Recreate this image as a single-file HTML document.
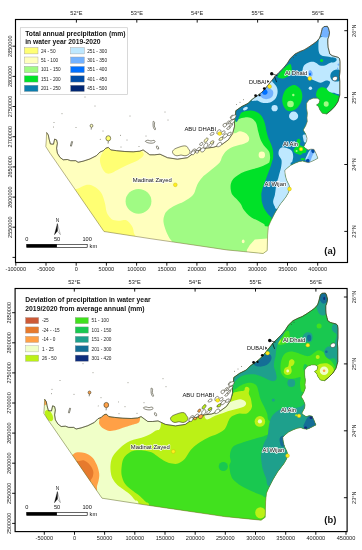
<!DOCTYPE html>
<html lang="en"><head><meta charset="utf-8"><title>UAE precipitation maps</title>
<style>html,body{margin:0;padding:0;background:#fff}body{width:362px;height:550px;overflow:hidden}svg{display:block;font-family:'Liberation Sans', Arial, sans-serif}</style></head><body>
<svg width="362" height="550" viewBox="0 0 362 550">
<defs><clipPath id="uae"><path d="M46.6 132.5 L48.3 135 L49.1 139.1 L50.4 144 L53.5 144.2 L54.6 139.1 L56.6 139.9 L57.4 143.2 L56.6 148.2 L57.4 153.2 L59.9 157.3 L63.2 159.8 L67.4 159.5 L70.7 160.7 L75.7 160.7 L78.1 162.3 L83.1 161.2 L89.8 159 L96.4 155.7 L100 152 L103.3 150.7 L105.8 148.2 L108.3 147.4 L110.8 149.9 L116.6 150.7 L124.9 151.5 L133.2 151.8 L139.8 151.2 L143.1 149.9 L146.4 152.3 L149.8 154.8 L154.7 154.8 L160 154.2 L167.5 157.7 L177.4 159.2 L187.4 157.7 L194.8 152.2 L203.5 148.5 L213.5 147.3 L222.2 144.3 L228.4 139.8 L232.6 133.6 L234.6 126.1 L234.1 118.7 L235.5 114.5 L235.8 110.7 L241.6 106.6 L248.2 103.3 L252.4 99.1 L257.3 95.8 L261.5 92.5 L264.9 89 L268.2 84.9 L271.6 80.7 L274.9 76.6 L279 72.4 L283.2 68.3 L287.3 63.3 L290.3 58.5 L295 54 L300 51.5 L304.1 49.9 L308.2 47.4 L313.2 44 L316.5 41.6 L319.5 38.2 L320.7 34.9 L321.5 31.6 L322.3 28.3 L324 26.6 L327.3 26.3 L328.5 28.3 L329.5 32.4 L329 35.8 L327.8 39.1 L327.8 43.2 L328.1 47.4 L329 50.7 L329.8 54 L332.3 55.7 L338.1 57.3 L339.5 58.5 L340 61.6 L340 71.6 L339.4 76.5 L339.8 81.5 L339.8 95 L338 101.6 L334.8 106.5 L330.6 110.7 L326.5 114 L322.3 113.2 L319.9 109.9 L318.5 106.5 L316.5 104.9 L319 103.2 L319.9 99.9 L317.4 98.2 L313.2 98.2 L309 99.9 L306.6 103.2 L306.6 108.2 L307.4 113.2 L307 118 L307.3 121.5 L305.7 125.7 L303.2 130 L305.7 134.1 L307.1 138.3 L306.5 141.6 L304.9 144.4 L303.8 146.6 L305.4 148.3 L308.2 149.9 L311 149.1 L314 149.4 L315.9 153.2 L317.9 158.2 L314.8 159.9 L311.5 161.5 L308.8 162.6 L306 162.1 L302.7 161 L299.4 161.5 L294.9 163.2 L290.5 165.4 L287.2 168.1 L284.8 170.5 L285.2 174.9 L286.5 179.9 L289 184.9 L289.8 189 L288.1 193.2 L285.7 197.3 L279.7 205 L274.8 213.2 L270.6 221.5 L268.4 226.5 L267.6 235 L267.2 250.6 L263.1 253.5 L243.2 251.5 L226.6 249.9 L210 247.4 L150 238.6 L104 231.5 L78.9 195 L54.8 160 L50 153.2 L45.8 146.6 L46.3 140Z"/></clipPath></defs>
<rect width="362" height="550" fill="#fff"/>
<g id="panel-a">
<g clip-path="url(#uae)">
<rect x="30" y="20" width="320" height="240" fill="#ffffbe"/>
<path d="M233 131 C234.2 136.2 237.9 130.9 240 131.3 C242.1 131.7 244.2 132.3 245.7 133.3 C247.2 134.3 248.6 136 249 137.4 C249.4 138.8 249.2 140.5 248.2 141.6 C247.2 142.7 245.1 143.3 243.2 144 C241.3 144.7 238.8 145 236.6 145.7 C234.4 146.4 231.9 147.1 230 148.2 C228.1 149.2 226.5 150.5 225.2 152 C223.9 153.5 222.9 155.3 222 157 C221.1 158.7 221.5 160.2 219.7 162.4 C217.9 164.6 213.7 167.6 211 169.9 C208.3 172.2 205.6 174 203.5 176.1 C201.4 178.2 199.8 180.3 198.6 182.3 C197.3 184.3 196.9 185.9 196 188 C195.1 190.1 195 192.8 193 195 C191 197.2 187 199.8 184 201.5 C181 203.2 177.7 204.1 175 205.5 C172.3 206.9 169.8 208.4 168 210 C166.2 211.6 165.2 213 164.5 215 C163.8 217 163.2 219.3 163.5 222 C163.8 224.7 165 228.2 166 231 C167 233.8 168.7 236.5 169.7 238.5 C170.7 240.5 171.6 239.1 172 243 C172.4 246.9 142 258.8 172 262 C202 265.2 322 289 352 262 C382 235 371.8 127 352 100 C332.2 73 252.8 94.8 233 100 C213.2 105.2 231.8 125.8 233 131Z" fill="#a0fb84"/>
<path d="M100 158.7 C100.3 156.3 101.7 154.1 103 152 C104.3 149.9 106 146.5 108 146 C110 145.5 111.8 148.3 115 149 C118.2 149.7 123.2 149.8 127.3 150 C131.4 150.2 137.1 149.7 139.8 150.5 C142.6 151.3 144 153 143.8 154.6 C143.6 156.2 141.2 158.3 138.5 160 C135.8 161.7 130.8 163.3 127.3 165 C123.8 166.7 120.3 168.6 117.4 170 C114.5 171.4 112.1 173.2 110 173.6 C107.9 174 106.5 173.6 105 172.3 C103.5 171.1 102 168.4 101.2 166.1 C100.4 163.8 99.7 161 100 158.7Z" fill="#ffff73"/>
<path d="M70 190 C71.2 188.1 74.6 189.5 77.3 188.7 C80 187.8 83.3 185.3 86 184.9 C88.7 184.5 91 184.9 93.5 186.2 C96 187.4 99.1 189.7 101 192.4 C102.9 195.1 103.8 199 104.7 202.3 C105.7 205.6 105.8 209.8 106.7 212.3 C107.6 214.8 108.9 216.2 110 217.5 C111.1 218.8 111.5 219.4 113.1 219.9 C114.7 220.4 117.6 220.6 119.8 220.7 C122 220.8 124.4 219.4 126.4 220.3 C128.4 221.2 130.7 224.1 131.9 226.1 C133.1 228.1 133.5 230 133.7 232.3 C133.9 234.6 138.6 238.7 133 240 C127.4 241.3 110.5 246.7 100 240 C89.5 233.3 75 208.3 70 200 C65 191.7 68.8 191.9 70 190Z" fill="#ffff73"/>
<ellipse cx="138.5" cy="201.3" rx="12.9" ry="12.4" fill="#a0fb84"/>
<path d="M246.8 249.9 L249.8 244.9 L254.8 239.6 L270 238.3 L270 256 L247.3 253Z" fill="#ffffbe"/>
<ellipse cx="243.2" cy="241.4" rx="1.4" ry="1.8" fill="#ffffbe"/>
<path d="M233 124 C233.5 127.5 235 121.8 236 121 C237 120.2 237.6 119.6 239.1 119 C240.6 118.4 242.8 117.5 244.9 117.4 C247 117.3 249.7 117.4 251.5 118.2 C253.3 119 254.7 120.8 255.7 122.3 C256.7 123.8 256.9 125.8 257.3 127.3 C257.7 128.8 257.6 129.5 258.2 131.6 C258.8 133.7 259.6 137.4 260.7 139.9 C261.8 142.4 263.4 144.7 264.8 146.6 C266.2 148.5 268.1 149.8 269 151.5 C269.9 153.2 270 155.3 270.1 157 C270.2 158.7 269.8 160.4 269.5 161.5 C269.2 162.6 269.5 162.5 268.1 163.3 C266.8 164.2 263.9 165.6 261.4 166.6 C258.9 167.6 255.8 168.3 253.1 169.1 C250.3 169.9 247.4 170.6 244.9 171.6 C242.4 172.6 240.1 173.7 238.2 174.9 C236.2 176.2 234.4 177.6 233.2 179.1 C232 180.6 231.2 182.2 230.8 184 C230.4 185.8 230.5 188.1 230.8 189.9 C231.1 191.7 231.4 193.3 232.4 194.8 C233.4 196.3 235.2 197.6 236.6 199.1 C238 200.6 239.7 202.4 240.8 204.1 C241.9 205.8 242.2 207.6 243.2 209.1 C244.2 210.6 245.2 211.8 246.6 213.2 C248 214.6 249.6 216.2 251.5 217.4 C253.4 218.7 256.1 219.6 258.2 220.7 C260.3 221.8 262.3 223 264 224 C265.7 225 262.4 225.8 268.4 226.5 C274.4 227.2 294.7 249.1 300 228 C305.3 206.9 311.2 121.3 300 100 C288.8 78.7 244.2 96 233 100 C221.8 104 232.5 120.5 233 124Z" fill="#00e128"/>
<ellipse cx="261.8" cy="154.9" rx="3.2" ry="3.4" fill="#ffffbe"/>
<path d="M235 115.3 C235.9 131.5 239.4 113.2 241.6 112.4 C243.8 111.6 246 110.9 248.2 110.7 C250.4 110.5 252.8 110.5 254.9 111.2 C257 111.9 259.2 113.3 260.7 114.9 C262.2 116.5 263.2 118.8 264 120.7 C264.8 122.6 265.2 124.7 265.6 126.5 C266 128.3 266 129.6 266.5 131.6 C267 133.6 267.6 136.1 268.4 138.3 C269.2 140.5 270.6 142.7 271.4 144.9 C272.2 147.1 272.8 149.3 273.1 151.5 C273.4 153.7 273.2 156.6 273.1 158.2 C273 159.8 272.6 159.6 272.2 161 C271.8 162.4 271.3 164.5 270.6 166.6 C269.9 168.7 268.9 171.1 268.1 173.3 C267.3 175.5 266.4 177.7 265.6 179.9 C264.8 182.1 263.8 184.3 263.1 186.5 C262.4 188.7 261.7 191.4 261.4 193.2 C261.1 194.9 261.4 195.6 261.5 197 C261.6 198.4 261.4 199.7 261.8 201.6 C262.2 203.5 263.1 206.4 264 208.3 C264.9 210.2 266.1 211.7 267.3 213.2 C268.5 214.7 270.4 216.5 271.4 217.4 C272.4 218.3 268.7 218.4 273.5 218.8 C278.3 219.2 286.9 219.8 300 220 C313.1 220.2 343.3 254.2 352 220 C360.7 185.8 371.3 49.2 352 15 C332.7 -19.2 255.5 -1.7 236 15 C216.5 31.7 234.1 99.1 235 115.3Z" fill="#0a7dae"/>
<path d="M279.1 150 C279.6 148.7 280.4 147.8 281.6 147.4 C282.9 147.1 284.9 147.4 286.6 147.9 C288.3 148.4 290.5 149.3 291.6 150.7 C292.7 152 293.1 154.2 293.2 156 C293.3 157.8 292.7 159.8 292.3 161.5 C291.9 163.2 289.7 161.2 291 166 C292.3 170.8 299.8 182.3 300 190 C300.2 197.7 295.8 208.8 292 212 C288.2 215.2 280.1 210 277.2 209.1 C274.3 208.2 275.5 207.8 274.8 206.6 C274.1 205.3 273.1 203.6 273.1 201.6 C273.1 199.6 274.5 196.9 274.9 194.8 C275.3 192.7 275.4 190.9 275.7 189 C276 187.1 276.1 185 276.5 183.2 C276.9 181.4 277.7 179.8 278.2 178.2 C278.7 176.5 279 175.2 279.5 173.3 C280 171.4 280.9 168.8 281.2 166.6 C281.5 164.4 281.9 161.9 281.5 160 C281.1 158.1 279.1 156.7 278.7 155 C278.3 153.3 278.6 151.3 279.1 150Z" fill="#bee8ff"/>
<path d="M320.8 37.2 C318.1 38.1 319.1 39.7 318.7 41.2 C318.3 42.7 318.4 44.5 318.4 46.1 C318.4 47.8 318.4 49.8 318.7 51.1 C318.9 52.5 319.2 53.4 319.9 54.2 C320.6 55 321.8 55.7 323 56.1 C324.2 56.5 325.7 56.4 327 56.6 C328.3 56.8 329.6 57 331 57.2 C332.4 57.4 334.7 57.5 335.6 58 C336.5 58.5 336.8 59.5 336.6 60.2 C336.4 60.9 335.3 61.8 334.2 62.3 C333.1 62.8 331.4 62.4 329.9 62.9 C328.3 63.4 326.6 65 324.9 65.4 C323.2 65.8 321.3 65.8 319.9 65.4 C318.4 65 317.4 63.5 316.2 62.9 C314.9 62.3 313.8 61.7 312.4 61.7 C310.9 61.7 308.9 62.2 307.5 62.9 C306.1 63.6 304.5 64.5 303.7 66 C302.9 67.5 302.3 70 302.8 71.8 C303.3 73.6 305 75.3 306.8 76.7 C308.6 78.1 311.5 79.3 313.8 80.3 C316.1 81.3 318.6 82.7 320.7 82.7 C322.8 82.8 324.8 80.7 326.3 80.6 C327.9 80.5 329.6 81.1 330 82 C330.4 82.9 329.1 84.8 328.5 86 C327.9 87.2 326.2 88.5 326.3 89.5 C326.4 90.5 327.7 91.7 329 92.2 C330.3 92.8 332.5 92.5 334 92.8 C335.5 93.1 336.2 94.1 338 94 C339.8 93.9 343.8 99.3 345 92 C346.2 84.7 346.7 59.3 345 50 C343.3 40.7 339 38.1 335 36 C331 33.9 323.5 36.3 320.8 37.2Z" fill="#bee8ff"/>
<path d="M331 73 C331.6 71.9 332.8 70.8 334 70.2 C335.2 69.6 336.8 69.3 338 69.6 C339.2 69.9 340.5 70.3 341 72 C341.5 73.7 341.7 78.4 341 80 C340.3 81.6 338.4 81.4 337 81.5 C335.6 81.6 333.6 81.2 332.5 80.5 C331.4 79.8 330.6 78.2 330.4 77 C330.1 75.8 330.4 74.1 331 73Z" fill="#0a7dae"/>
<path d="M318 28 C319.7 26.2 327.8 23.2 330 24 C332.2 24.8 331.1 31 331 33 C330.9 35 330.3 35.2 329.4 36 C328.5 36.8 326.9 37.5 325.7 37.6 C324.5 37.7 323.2 37.3 322.3 36.8 C321.4 36.3 320.7 36 320 34.5 C319.3 33 316.3 29.8 318 28Z" fill="#73b2ff"/>
<ellipse cx="338.4" cy="64.6" rx="0.8" ry="1.2" fill="#73b2ff"/>
<ellipse cx="337.6" cy="68.4" rx="0.6" ry="0.8" fill="#73b2ff"/>
<path d="M268 78 C271.5 75.2 271.6 81 273 82.5 C274.4 84 275.9 85.3 276.7 86.9 C277.5 88.5 277.7 90.2 277.6 91.9 C277.5 93.7 277 95.9 276.1 97.4 C275.2 99 273.8 100.3 272.4 101.2 C270.9 102.1 269.3 102.8 267.4 103 C265.5 103.2 262.9 102.8 261.2 102.4 C259.5 102 258.9 101.2 257.4 100.6 C255.9 100 250.2 102.8 252 99 C253.8 95.2 264.5 80.8 268 78Z" fill="#bee8ff"/>
<path d="M264 84 C266.4 83 269 87.5 270.5 88.7 C272 89.9 272.6 90.2 273 91.2 C273.4 92.2 273.4 93.8 273 95 C272.6 96.2 271.6 97.4 270.5 98.1 C269.4 98.8 267.5 99.3 266.1 99.3 C264.8 99.3 263.3 98.6 262.4 98.1 C261.5 97.6 261.7 96.9 260.6 96.4 C259.5 95.9 255.4 97.1 256 95 C256.6 92.9 261.6 85 264 84Z" fill="#73b2ff"/>
<path d="M262 88 C263 87.8 265.1 88.9 266 89.6 C266.9 90.3 267.5 91.2 267.6 92 C267.7 92.8 267.2 93.8 266.6 94.3 C266 94.8 264.9 94.9 264.2 94.8 C263.5 94.7 263.3 94 262.6 93.4 C261.9 92.8 260.1 91.9 260 91 C259.9 90.1 261 88.2 262 88Z" fill="#0070ff"/>
<ellipse cx="245.4" cy="108.6" rx="2.6" ry="1.5" fill="#bee8ff" transform="rotate(-25 245.4 108.6)"/>
<ellipse cx="274.6" cy="108.2" rx="3.1" ry="3.1" fill="#bee8ff"/>
<ellipse cx="293.6" cy="116" rx="4.6" ry="4.4" fill="#bee8ff"/>
<ellipse cx="310.4" cy="88.2" rx="1.7" ry="1.7" fill="#bee8ff"/>
<path d="M308.8 71 C309.1 70.2 309.9 70 310.5 70.2 C311.1 70.5 312.1 71.6 312.4 72.5 C312.7 73.4 312.7 74.8 312.4 75.5 C312.1 76.2 311.1 76.7 310.5 76.6 C309.9 76.5 309.1 75.9 308.8 75 C308.5 74.1 308.5 71.8 308.8 71Z" fill="#73b2ff"/>
<ellipse cx="310" cy="74.2" rx="0.9" ry="1.4" fill="#0070ff"/>
<path d="M277.5 77 C277.1 76.3 278.1 75.4 279 74.1 C279.9 72.8 281.7 70.6 283.2 69.1 C284.7 67.6 286.6 65.8 287.8 65 C289 64.2 289.9 63.8 290.5 64.3 C291.1 64.8 291.4 66.4 291.6 67.8 C291.8 69.2 291.9 71.2 291.5 72.5 C291.1 73.8 290.1 74.9 289 75.8 C287.9 76.7 286.2 77.5 285 77.9 C283.8 78.3 282.8 78.6 281.5 78.4 C280.2 78.2 277.9 77.7 277.5 77Z" fill="#00e128"/>
<path d="M282.2 99.9 C282.3 97.2 283.4 93.4 284.7 91.1 C286 88.8 288.3 87.2 290.2 86.2 C292.1 85.2 294.1 84.8 295.9 85.4 C297.7 86 299.8 87.9 300.9 89.9 C302 91.9 302.5 94.9 302.3 97.4 C302.1 99.9 300.9 102.7 299.6 104.8 C298.3 106.9 296.6 108.8 294.7 109.8 C292.8 110.8 290.1 111.4 288.4 111 C286.6 110.6 285.2 109.1 284.2 107.3 C283.2 105.5 282.1 102.6 282.2 99.9Z" fill="#00e128"/>
<ellipse cx="290.5" cy="104" rx="3.3" ry="3.3" fill="#a0fb84"/>
<ellipse cx="293.3" cy="95" rx="1.2" ry="1.2" fill="#a0fb84"/>
<path d="M317.2 90.5 C317.9 89.1 319.3 87.9 320.7 87.5 C322.1 87.1 324.3 87.6 325.7 88.3 C327.1 89 327.6 90.6 329 91.6 C330.4 92.6 332.5 93.4 334 94.1 C335.5 94.8 336.3 95.1 338.1 95.8 C339.9 96.5 345 95.6 345 98 C345 100.4 341 106.8 338 110 C335 113.2 329.8 116.2 327 117 C324.2 117.8 322.5 116.5 321 115 C319.5 113.5 319.2 109.8 318 108 C316.8 106.2 313.8 105.8 314 104.5 C314.2 103.2 319.1 101.9 319.5 100.5 C319.9 99.1 316.6 97.7 316.2 96 C315.8 94.3 316.4 91.9 317.2 90.5Z" fill="#00e128"/>
<ellipse cx="326.2" cy="104" rx="2.5" ry="2.7" fill="#a0fb84"/>
<ellipse cx="321.6" cy="60.4" rx="1.5" ry="1.5" fill="#00e128"/>
<path d="M293.8 149.4 C294.1 148.7 294.9 147.8 295.5 147.2 C296.1 146.5 297 146.2 297.2 145.5 C297.4 144.8 296.6 143.7 296.6 142.7 C296.6 141.7 296.7 140 297.2 139.4 C297.7 138.8 298.8 138.6 299.4 138.9 C299.9 139.2 300.4 140.2 300.5 141.1 C300.6 142 299.7 143.6 299.9 144.4 C300.1 145.2 300.9 145.6 301.6 146 C302.3 146.4 303.6 146.2 304.3 146.6 C305 147 305.4 147.7 305.8 148.3 C306.2 149 306.6 149.8 306.5 150.5 C306.4 151.2 306 152.2 305.4 152.7 C304.8 153.1 303.5 152.8 302.7 153.2 C301.9 153.6 301.2 154.7 300.5 154.9 C299.8 155.1 299.1 154.6 298.3 154.3 C297.5 154 296.2 153.6 295.5 153.2 C294.8 152.8 294.1 152.2 293.8 151.6 C293.5 151 293.5 150.1 293.8 149.4Z" fill="#00e128"/>
<ellipse cx="296.6" cy="151" rx="1" ry="1" fill="#a0fb84"/>
<ellipse cx="302.7" cy="159.2" rx="2.3" ry="1.1" fill="#00e128"/>
<path d="M303 135 C303.7 134.3 306.7 134.3 307.5 135 C308.3 135.7 307.9 137.8 307.8 139 C307.7 140.2 307.2 141.4 306.6 142 C306 142.6 304.9 142.8 304.4 142.3 C303.8 141.8 303.5 140.2 303.3 139 C303.1 137.8 302.3 135.7 303 135Z" fill="#bee8ff"/>
<path d="M305.4 158.8 L308.2 152.7 L311 148.5 L314.5 148.5 L319 159 L309 164 L306 162.5Z" fill="#bee8ff"/>
<path d="M310.6 149.5 C311.2 149 312.9 148.7 313.6 149 C314.3 149.3 314.7 150.6 314.6 151.5 C314.5 152.4 313.5 153.4 313 154.5 C312.5 155.6 312 156.7 311.5 158 C311 159.3 310.7 161.8 309.8 162.6 C308.9 163.3 307 162.9 306.4 162.5 C305.8 162.1 305.9 161.1 306.3 160 C306.7 158.9 307.9 157.3 308.5 156 C309.1 154.7 309.6 153.1 310 152 C310.4 150.9 310 150 310.6 149.5Z" fill="#73b2ff"/>
<path d="M311.6 149.2 C312.1 148.8 313.7 148.7 314.2 149.2 C314.7 149.7 314.8 151.3 314.6 152 C314.4 152.7 313.3 153.3 312.8 153.2 C312.3 153.1 311.6 152.2 311.4 151.5 C311.2 150.8 311.1 149.6 311.6 149.2Z" fill="#004da8"/>
<path d="M306 159.8 C306.4 159.2 307.9 158.8 308.5 159 C309.1 159.2 309.6 160.4 309.6 161 C309.6 161.6 309.1 162.6 308.5 162.8 C307.9 163 306.4 162.9 306 162.4 C305.6 161.9 305.6 160.4 306 159.8Z" fill="#004da8"/>
</g>
<path d="M46.6 132.5 L48.3 135 L49.1 139.1 L50.4 144 L53.5 144.2 L54.6 139.1 L56.6 139.9 L57.4 143.2 L56.6 148.2 L57.4 153.2 L59.9 157.3 L63.2 159.8 L67.4 159.5 L70.7 160.7 L75.7 160.7 L78.1 162.3 L83.1 161.2 L89.8 159 L96.4 155.7 L100 152 L103.3 150.7 L105.8 148.2 L108.3 147.4 L110.8 149.9 L116.6 150.7 L124.9 151.5 L133.2 151.8 L139.8 151.2 L143.1 149.9 L146.4 152.3 L149.8 154.8 L154.7 154.8 L160 154.2 L167.5 157.7 L177.4 159.2 L187.4 157.7 L194.8 152.2 L203.5 148.5 L213.5 147.3 L222.2 144.3 L228.4 139.8 L232.6 133.6 L234.6 126.1 L234.1 118.7 L235.5 114.5 L235.8 110.7 L241.6 106.6 L248.2 103.3 L252.4 99.1 L257.3 95.8 L261.5 92.5 L264.9 89 L268.2 84.9 L271.6 80.7 L274.9 76.6 L279 72.4 L283.2 68.3 L287.3 63.3 L290.3 58.5 L295 54 L300 51.5 L304.1 49.9 L308.2 47.4 L313.2 44 L316.5 41.6 L319.5 38.2 L320.7 34.9 L321.5 31.6 L322.3 28.3 L324 26.6 L327.3 26.3 L328.5 28.3 L329.5 32.4 L329 35.8 L327.8 39.1 L327.8 43.2 L328.1 47.4 L329 50.7 L329.8 54 L332.3 55.7 L338.1 57.3 L339.5 58.5 L340 61.6 L340 71.6 L339.4 76.5 L339.8 81.5 L339.8 95 L338 101.6 L334.8 106.5 L330.6 110.7 L326.5 114 L322.3 113.2 L319.9 109.9 L318.5 106.5 L316.5 104.9 L319 103.2 L319.9 99.9 L317.4 98.2 L313.2 98.2 L309 99.9 L306.6 103.2 L306.6 108.2 L307.4 113.2 L307 118 L307.3 121.5 L305.7 125.7 L303.2 130 L305.7 134.1 L307.1 138.3 L306.5 141.6 L304.9 144.4 L303.8 146.6 L305.4 148.3 L308.2 149.9 L311 149.1 L314 149.4 L315.9 153.2 L317.9 158.2 L314.8 159.9 L311.5 161.5 L308.8 162.6 L306 162.1 L302.7 161 L299.4 161.5 L294.9 163.2 L290.5 165.4 L287.2 168.1 L284.8 170.5 L285.2 174.9 L286.5 179.9 L289 184.9 L289.8 189 L288.1 193.2 L285.7 197.3 L279.7 205 L274.8 213.2 L270.6 221.5 L268.4 226.5 L267.6 235 L267.2 250.6 L263.1 253.5 L243.2 251.5 L226.6 249.9 L210 247.4 L150 238.6 L104 231.5 L78.9 195 L54.8 160 L50 153.2 L45.8 146.6 L46.3 140Z" fill="none" stroke="#7a7440" stroke-width="0.55" stroke-linejoin="round"/>
<path d="M46.6 132.5 L48.3 135 L49.1 139.1 L50.4 144 L53.5 144.2 L54.6 139.1 L56.6 139.9 L57.4 143.2 L56.6 148.2 L57.4 153.2 L59.9 157.3 L63.2 159.8 L67.4 159.5 L70.7 160.7 L75.7 160.7 L78.1 162.3 L83.1 161.2 L89.8 159 L96.4 155.7 L100 152 L103.3 150.7 L105.8 148.2 L108.3 147.4 L110.8 149.9 L116.6 150.7 L124.9 151.5 L133.2 151.8 L139.8 151.2 L143.1 149.9 L146.4 152.3 L149.8 154.8 L154.7 154.8 L160 154.2 L167.5 157.7 L177.4 159.2 L187.4 157.7 L194.8 152.2 L203.5 148.5 L213.5 147.3 L222.2 144.3 L228.4 139.8 L232.6 133.6 L234.6 126.1 L234.1 118.7 L235.5 114.5 L235.8 110.7 L241.6 106.6 L248.2 103.3 L252.4 99.1 L257.3 95.8 L261.5 92.5 L264.9 89 L268.2 84.9 L271.6 80.7 L274.9 76.6 L279 72.4 L283.2 68.3 L287.3 63.3 L290.3 58.5 L295 54 L300 51.5 L304.1 49.9 L308.2 47.4 L313.2 44 L316.5 41.6 L319.5 38.2 L320.7 34.9 L321.5 31.6 L322.3 28.3 L324 26.6 L327.3 26.3 L328.5 28.3 L329.5 32.4 L329 35.8 L327.8 39.1 L327.8 43.2 L328.1 47.4 L329 50.7 L329.8 54 L332.3 55.7 L338.1 57.3 L339.5 58.5 L340 61.6 L340 71.6 L339.4 76.5 L339.8 81.5 L339.8 95 L338 101.6 L334.8 106.5 L330.6 110.7 L326.5 114" fill="none" stroke="#2e2e22" stroke-width="0.55" stroke-linejoin="round"/>
<path d="M332.4 78.6 C332.5 77.9 333.3 77 334 76.7 C334.7 76.4 336 76.3 336.6 76.6 C337.2 76.9 337.5 77.9 337.4 78.6 C337.3 79.3 336.7 80.3 336 80.6 C335.3 80.9 334 80.9 333.4 80.6 C332.8 80.3 332.3 79.2 332.4 78.6Z" fill="#fff" stroke="#222" stroke-width="0.5"/>
<path d="M108.3 140.8 L108.1 143.6" fill="none" stroke="#3c3a26" stroke-width="0.6"/>
<ellipse cx="108.3" cy="138.3" rx="2.4" ry="2.6" fill="#ffff73" stroke="#3c3a26" stroke-width="0.6"/>
<path d="M91.4 127.3 L91.2 129.6" fill="none" stroke="#3c3a26" stroke-width="0.6"/>
<ellipse cx="91.5" cy="125.8" rx="1.4" ry="1.5" fill="#ffffbe" stroke="#3c3a26" stroke-width="0.6"/>
<path d="M71.6 141.5 L72.6 141.7 L71.4 146.2 L70.4 146 Z" fill="#fff" stroke="#3c3a26" stroke-width="0.6"/>
<path d="M172.5 151.5 C172.7 150.6 173.9 149.5 175 148.8 C176.1 148.1 177.7 147.7 179 147.2 C180.3 146.7 181.8 146.2 183 146 C184.2 145.8 185.6 145.8 186.5 146.2 C187.4 146.6 187.6 147.6 188.2 148.5 C188.8 149.4 189.9 150.5 190 151.5 C190.1 152.5 189.3 153.8 188.5 154.5 C187.7 155.2 186.2 155.7 185 155.8 C183.8 155.9 182.3 155 181 155 C179.7 155 178.2 155.9 177 155.8 C175.8 155.7 174.6 155.2 173.8 154.5 C173.1 153.8 172.3 152.4 172.5 151.5Z" fill="#ffffbe" stroke="#3c3a26" stroke-width="0.6"/>
<path d="M145.3 141.2 C145.3 140.8 147.1 140.2 148 140.2 C148.9 140.2 150 141 151 141 C152 141 153.3 140.1 154 140.3 C154.7 140.5 155.3 141.5 155 142 C154.7 142.5 153.2 143.1 152 143.2 C150.8 143.3 149.1 143.1 148 142.8 C146.9 142.5 145.3 141.6 145.3 141.2Z" fill="#fff" stroke="#3c3a26" stroke-width="0.6"/>
<path d="M156.6 146 C156.8 145.7 158 146.3 158.3 146.8 C158.6 147.3 158.8 148.7 158.6 149 C158.3 149.3 157.1 148.9 156.8 148.4 C156.5 147.9 156.3 146.3 156.6 146Z" fill="#fff" stroke="#3c3a26" stroke-width="0.6"/>
<path d="M153.2 121.5 C153.4 120.8 154.4 121.8 154.6 122.5 C154.8 123.2 154.1 124.9 154.3 126 C154.5 127.1 155.6 128.4 155.6 129 C155.6 129.6 155 130 154.6 129.6 C154.2 129.2 153.4 127.8 153.2 126.5 C153 125.2 153 122.2 153.2 121.5Z" fill="#fff" stroke="#3c3a26" stroke-width="0.6"/>
<path d="M191.5 151.7 C191.5 151.4 191.7 151 192.1 150.6 C192.4 150.2 193.4 149.4 193.8 149.2 C194.2 148.9 194.5 149 194.8 149 C195.1 149 195.8 148.9 195.7 149.3 C195.6 149.6 194.7 150.8 194.2 151.3 C193.6 151.8 192.2 152.5 191.8 152.6 C191.4 152.6 191.4 152 191.5 151.7Z" fill="#fff" stroke="#3c3a26" stroke-width="0.6"/>
<path d="M197.6 152.9 C197.2 153.1 196.8 153.4 196.5 153.2 C196.2 153.1 195.6 152.2 195.5 151.8 C195.4 151.4 195.5 150.9 195.8 150.7 C196 150.4 197 150.2 197.3 150.2 C197.7 150.2 197.8 150.6 198 150.9 C198.3 151.2 198.8 151.7 198.8 152 C198.7 152.3 197.9 152.7 197.6 152.9Z" fill="#fff" stroke="#3c3a26" stroke-width="0.6"/>
<path d="M198.2 147.9 C198.7 147.6 199.4 147.3 199.7 147.3 C200.1 147.3 200.7 147.6 200.7 148 C200.7 148.5 200 149.8 199.6 150.1 C199.2 150.5 198.5 150.5 198 150.6 C197.5 150.7 196.4 151 196.2 150.8 C196.1 150.6 196.5 149.9 196.8 149.4 C197.1 149 197.8 148.2 198.2 147.9Z" fill="#fff" stroke="#3c3a26" stroke-width="0.6"/>
<path d="M203.3 151.7 C202.8 152 201.9 152 201.4 151.8 C201 151.6 200.3 151 200.3 150.4 C200.3 149.9 201.2 148.8 201.6 148.4 C202 148 202.6 147.8 203.1 147.8 C203.6 147.8 204.9 147.9 205.2 148.1 C205.5 148.4 205.2 149.2 204.9 149.7 C204.7 150.2 203.9 151.4 203.3 151.7Z" fill="#fff" stroke="#3c3a26" stroke-width="0.6"/>
<path d="M202.4 144.4 C202.2 144.8 201.8 145.3 201.5 145.5 C201.3 145.6 200.9 145.6 200.6 145.5 C200.3 145.4 199.8 145.3 199.7 145 C199.6 144.7 200 143.7 200.3 143.3 C200.5 142.9 201.2 142.4 201.6 142.4 C202.1 142.3 202.8 142.6 202.9 143 C203 143.3 202.6 144.1 202.4 144.4Z" fill="#fff" stroke="#3c3a26" stroke-width="0.6"/>
<path d="M207.5 145.7 C207.3 146.3 206.9 147.1 206.4 147.5 C205.9 147.9 204.4 148.4 204 148.3 C203.6 148.1 203.8 147 203.8 146.5 C203.8 146 203.6 145.4 204 144.8 C204.4 144.3 205.8 143.1 206.4 143 C206.9 142.8 207.7 143.4 207.9 143.8 C208 144.2 207.7 145.1 207.5 145.7Z" fill="#fff" stroke="#3c3a26" stroke-width="0.6"/>
<path d="M206.8 137.9 C207.3 137.7 207.8 138.2 207.9 138.5 C208.1 138.8 208.1 139.4 207.8 139.9 C207.6 140.4 206.7 141.5 206.3 141.9 C205.8 142.2 205 142.5 204.6 142.4 C204.3 142.3 204.1 141.7 204.1 141.3 C204.1 140.9 204.4 140.3 204.8 139.7 C205.2 139.2 206.3 138.1 206.8 137.9Z" fill="#ffffbe" stroke="#3c3a26" stroke-width="0.6"/>
<path d="M213 144.2 C212.7 144.8 212 145.3 211.5 145.8 C210.9 146.3 209.8 147.4 209.4 147.4 C209 147.4 208.7 146.3 208.8 145.8 C208.9 145.3 209.6 144.5 210 144 C210.5 143.5 211.1 142.9 211.7 142.6 C212.2 142.3 213.4 141.8 213.7 142 C213.9 142.3 213.3 143.6 213 144.2Z" fill="#fff" stroke="#3c3a26" stroke-width="0.6"/>
<path d="M210.5 143.4 C210.3 143.1 209.8 142.8 210.1 142.4 C210.4 142 211.7 141.2 212.2 140.9 C212.7 140.7 213.1 140.7 213.3 140.8 C213.6 140.8 214.1 141.1 213.9 141.5 C213.8 141.8 212.9 142.8 212.5 143.2 C212.1 143.7 211.6 144.1 211.3 144.2 C211 144.2 210.6 143.7 210.5 143.4Z" fill="#ffffbe" stroke="#3c3a26" stroke-width="0.6"/>
<path d="M218.5 143 C219.1 142.5 220.3 142.3 220.7 142.3 C221.2 142.3 221.3 142.7 221.5 143.1 C221.6 143.4 222 144.2 221.7 144.7 C221.5 145.2 220.3 145.9 219.7 146.2 C219 146.6 217.9 147 217.5 146.9 C217.1 146.7 216.7 146 216.9 145.4 C217 144.8 218 143.4 218.5 143Z" fill="#fff" stroke="#3c3a26" stroke-width="0.6"/>
<path d="M210.2 134.2 C210.4 133.8 211 133 211.5 132.7 C212 132.4 213 132.2 213.4 132.3 C213.8 132.3 214 132.6 214 133 C214.1 133.3 213.9 134.1 213.6 134.4 C213.2 134.7 212.4 135 211.9 135.1 C211.4 135.3 210.7 135.5 210.5 135.4 C210.2 135.2 210 134.5 210.2 134.2Z" fill="#fff" stroke="#3c3a26" stroke-width="0.6"/>
<path d="M222.9 136.8 C223.1 136.9 222.8 137.7 222.7 138.1 C222.7 138.5 222.7 139.3 222.4 139.6 C222.2 139.9 221.5 140.2 220.9 140.2 C220.4 140.3 219.1 140.5 218.9 140.2 C218.7 139.9 219.3 138.7 219.6 138.3 C220 137.9 220.6 137.7 221.1 137.5 C221.6 137.3 222.6 136.7 222.9 136.8Z" fill="#ffffbe" stroke="#3c3a26" stroke-width="0.6"/>
<path d="M217.2 134 C216.8 133.9 216.9 132.7 217 132.2 C217 131.7 217.2 131.1 217.5 130.8 C217.9 130.4 218.9 129.8 219.4 129.7 C219.8 129.6 220.4 130 220.6 130.2 C220.9 130.5 221.2 131.1 221 131.6 C220.9 132 220 133.1 219.5 133.5 C218.9 133.8 217.6 134.2 217.2 134Z" fill="#fff" stroke="#3c3a26" stroke-width="0.6"/>
<path d="M222.8 137.4 C222.8 137.1 223.3 136.3 223.6 135.7 C223.9 135.2 224.5 134.2 225 134 C225.5 133.7 226.5 133.9 226.9 134 C227.4 134.1 228.1 134.3 228 134.7 C227.9 135.1 226.8 136.3 226.3 136.8 C225.7 137.3 224.6 138 224.1 138.1 C223.6 138.2 222.9 137.8 222.8 137.4Z" fill="#fff" stroke="#3c3a26" stroke-width="0.6"/>
<path d="M222.7 131.4 C223.2 131.1 224 130.7 224.4 130.7 C224.7 130.8 225 131.5 225 131.8 C225 132.2 224.8 132.8 224.5 133.2 C224.2 133.5 223.4 134.1 222.9 134.2 C222.5 134.3 222 134.2 221.7 134 C221.5 133.8 221.1 133.3 221.3 132.9 C221.4 132.5 222.2 131.8 222.7 131.4Z" fill="#fff" stroke="#3c3a26" stroke-width="0.6"/>
<path d="M231.1 132.2 C231.4 132.3 231.2 133.3 231.1 133.7 C231 134.1 230.8 134.5 230.5 134.8 C230.3 135.1 229.9 135.4 229.5 135.5 C229 135.6 227.8 135.6 227.6 135.3 C227.4 135 227.7 133.8 228 133.4 C228.3 133 229 132.8 229.4 132.6 C229.9 132.4 230.9 132 231.1 132.2Z" fill="#fff" stroke="#3c3a26" stroke-width="0.6"/>
<path d="M224.7 127 C224.2 127.1 223.2 126.5 223 126.1 C222.8 125.7 223.1 124.5 223.4 124.1 C223.7 123.7 224.5 123.5 224.9 123.4 C225.3 123.3 225.9 123.3 226.2 123.6 C226.4 123.8 226.7 124.9 226.6 125.2 C226.6 125.6 226.1 125.7 225.8 126 C225.5 126.3 225.1 127 224.7 127Z" fill="#fff" stroke="#3c3a26" stroke-width="0.6"/>
<path d="M230.8 126 C231 126.2 230.4 127.2 230.1 127.6 C229.9 128.1 229.7 128.8 229.3 129 C229 129.3 228 129.4 227.6 129.4 C227.2 129.4 226.8 129.2 226.7 129 C226.7 128.7 227.1 128.2 227.5 127.8 C227.8 127.5 228.3 126.7 228.8 126.4 C229.3 126.1 230.6 125.9 230.8 126Z" fill="#fff" stroke="#3c3a26" stroke-width="0.6"/>
<path d="M227 122.6 C227.2 122.1 227.7 121.4 228.1 121.2 C228.4 121 229.2 121 229.4 121.1 C229.6 121.2 229.6 121.6 229.5 121.9 C229.4 122.3 228.9 123.2 228.5 123.5 C228.2 123.8 227.7 124 227.4 124 C227 124.1 226.2 124.2 226.2 123.9 C226.1 123.7 226.7 123 227 122.6Z" fill="#fff" stroke="#3c3a26" stroke-width="0.6"/>
<path d="M232.1 125.5 C231.9 125.8 231.6 126.3 231.2 126.5 C230.9 126.8 229.9 127.3 229.7 127.2 C229.4 127.2 229.4 126.7 229.5 126.3 C229.6 126 230 125.4 230.3 125 C230.6 124.7 231.1 124.4 231.5 124.2 C231.8 124 232.6 123.8 232.7 123.9 C232.8 124.1 232.3 125.1 232.1 125.5Z" fill="#fff" stroke="#3c3a26" stroke-width="0.6"/>
<path d="M230.8 119.9 C231.4 119.5 232.7 118.8 233 118.8 C233.3 118.9 233.2 119.8 232.9 120.3 C232.7 120.8 232 121.6 231.4 122.2 C230.9 122.7 229.7 123.8 229.2 124 C228.7 124.2 228.2 123.9 228.2 123.6 C228.2 123.3 228.9 122.4 229.3 121.8 C229.7 121.3 230.3 120.4 230.8 119.9Z" fill="#fff" stroke="#3c3a26" stroke-width="0.6"/>
<path d="M233.9 121.9 C233.5 122.5 232.8 123.2 232.3 123.4 C231.8 123.7 231.1 123.6 230.8 123.5 C230.6 123.4 230.3 123 230.4 122.6 C230.4 122.2 230.9 121.4 231.3 121 C231.7 120.5 232.2 120 232.8 119.7 C233.3 119.5 234.8 119.1 234.9 119.4 C235.1 119.7 234.3 121.3 233.9 121.9Z" fill="#fff" stroke="#3c3a26" stroke-width="0.6"/>
<path d="M233.4 115.6 C233.6 115.7 233.7 116.3 233.5 116.6 C233.3 117 232.5 117.6 232.2 117.9 C231.8 118.1 231.2 118.3 231 118.3 C230.7 118.2 230.3 118 230.3 117.7 C230.3 117.4 230.7 116.6 230.9 116.2 C231.2 115.9 231.7 115.4 232.1 115.3 C232.4 115.2 233.2 115.4 233.4 115.6Z" fill="#fff" stroke="#3c3a26" stroke-width="0.6"/>
<path d="M234.2 115.1 C234.8 115 236 114.6 236.2 114.9 C236.4 115.3 236 116.6 235.7 117.2 C235.4 117.7 234.8 118.5 234.2 118.8 C233.6 119.2 232.1 119.6 231.6 119.5 C231.1 119.4 230.8 118.4 231 117.9 C231.1 117.4 231.8 116.4 232.3 115.9 C232.8 115.5 233.6 115.3 234.2 115.1Z" fill="#fff" stroke="#3c3a26" stroke-width="0.6"/>
<path d="M190.6 153.6 C190.5 153 192.2 151.4 193 151 C193.8 150.6 195.1 150.8 195.2 151.4 C195.3 152 194.3 154.2 193.5 154.6 C192.7 155 190.7 154.2 190.6 153.6Z" fill="#fff" stroke="#3c3a26" stroke-width="0.6"/>
<circle cx="54" cy="122.5" r="0.45" fill="#3c3a26"/>
<circle cx="53.5" cy="127" r="0.45" fill="#3c3a26"/>
<circle cx="62" cy="113.8" r="0.45" fill="#3c3a26"/>
<circle cx="76" cy="127.5" r="0.45" fill="#3c3a26"/>
<circle cx="120.5" cy="135.2" r="0.45" fill="#3c3a26"/>
<circle cx="127" cy="140" r="0.45" fill="#3c3a26"/>
<circle cx="139" cy="146.5" r="0.45" fill="#3c3a26"/>
<circle cx="103" cy="131" r="0.45" fill="#3c3a26"/>
<circle cx="100.2" cy="139.2" r="0.45" fill="#3c3a26"/>
<circle cx="121" cy="147" r="0.45" fill="#3c3a26"/>
<circle cx="168" cy="120" r="0.45" fill="#3c3a26"/>
<circle cx="165" cy="112" r="0.45" fill="#3c3a26"/>
<circle cx="130" cy="116" r="0.45" fill="#3c3a26"/>
<circle cx="95" cy="106" r="0.45" fill="#3c3a26"/>
<circle cx="85" cy="97" r="0.45" fill="#3c3a26"/>
<circle cx="146" cy="136" r="0.45" fill="#3c3a26"/>
<circle cx="236.5" cy="104.5" r="0.45" fill="#3c3a26"/>
<circle cx="240" cy="102.3" r="0.45" fill="#3c3a26"/>
<circle cx="243.6" cy="99.8" r="0.45" fill="#3c3a26"/>
<circle cx="296" cy="55.5" r="0.45" fill="#3c3a26"/>
<circle cx="293.3" cy="57.8" r="0.45" fill="#3c3a26"/>
<path d="M272 73.9 L277.4 75.6 M274.6 76.6 L276.6 82.2" stroke="#0a0a0a" stroke-width="0.7" fill="none"/>
<circle cx="271.7" cy="73.8" r="1.7" fill="#0a0a0a"/>
<path d="M267.2 79.9 L269.2 81.3 L267.4 83 Z" fill="#0a0a0a"/>
<circle cx="264.3" cy="88.6" r="1.4" fill="#0a0a0a"/>
<circle cx="255.6" cy="95.7" r="1.4" fill="#0a0a0a"/>
<circle cx="259.7" cy="95.2" r="1.0" fill="#0a0a0a"/>
<circle cx="269.6" cy="86.5" r="1.9" fill="#ffef1e" stroke="#b9a500" stroke-width="0.35"/>
<circle cx="309.8" cy="78.5" r="1.9" fill="#ffef1e" stroke="#b9a500" stroke-width="0.35"/>
<circle cx="219.7" cy="133.6" r="1.9" fill="#ffef1e" stroke="#b9a500" stroke-width="0.35"/>
<circle cx="175.3" cy="184.8" r="1.9" fill="#ffef1e" stroke="#b9a500" stroke-width="0.35"/>
<circle cx="301" cy="149.1" r="1.9" fill="#ffef1e" stroke="#b9a500" stroke-width="0.35"/>
<circle cx="289.5" cy="189" r="1.9" fill="#ffef1e" stroke="#b9a500" stroke-width="0.35"/>
<text x="266.2" y="83.8" font-size="5.6" text-anchor="end" font-weight="normal" fill="#111" stroke="#fff" stroke-width="1.6" stroke-linejoin="round" paint-order="stroke" stroke-opacity="0.9">DUBAI</text>
<text x="285" y="75.3" font-size="5.9" text-anchor="start" font-weight="normal" fill="#111" stroke="#fff" stroke-width="1.6" stroke-linejoin="round" paint-order="stroke" stroke-opacity="0.9">Al Dhaid</text>
<text x="184.4" y="130.8" font-size="5.9" text-anchor="start" font-weight="normal" fill="#111" stroke="#fff" stroke-width="1.6" stroke-linejoin="round" paint-order="stroke" stroke-opacity="0.9">ABU DHABI</text>
<text x="132.8" y="182" font-size="5.9" text-anchor="start" font-weight="normal" fill="#111" stroke="#fff" stroke-width="1.6" stroke-linejoin="round" paint-order="stroke" stroke-opacity="0.9">Madinat Zayed</text>
<text x="283" y="145.6" font-size="5.9" text-anchor="start" font-weight="normal" fill="#111" stroke="#fff" stroke-width="1.6" stroke-linejoin="round" paint-order="stroke" stroke-opacity="0.9">Al Ain</text>
<text x="264.6" y="185.7" font-size="5.9" text-anchor="start" font-weight="normal" fill="#111" stroke="#fff" stroke-width="1.6" stroke-linejoin="round" paint-order="stroke" stroke-opacity="0.9">Al Wijan</text>
</g>
<g id="panel-b" transform="translate(-2 266.7)">
<g clip-path="url(#uae)">
<rect x="30" y="20" width="320" height="240" fill="#f0ffc8"/>
<path d="M163 113.3 C163 137.3 164 148.8 163 157.3 C162 165.8 159.7 162.2 157 164.3 C154.3 166.4 151.2 168.1 147 169.8 C142.8 171.5 136.2 172.4 132 174.3 C127.8 176.2 124.8 178.8 122 181.3 C119.2 183.8 116.6 186.5 115 189.3 C113.4 192.1 112.8 195 112.5 198.3 C112.2 201.6 112.6 206.2 113.5 209.3 C114.4 212.4 116.2 214.7 118 216.8 C119.8 218.9 121.8 220.1 124 221.8 C126.2 223.6 129.3 225.4 131.5 227.3 C133.7 229.2 135.4 231.7 136.9 233.3 C138.4 234.9 139.9 232.7 140.5 236.9 C141.1 241.1 104.9 251.4 140.5 258.3 C176.1 265.2 318.4 319.1 354 278.3 C389.6 237.5 385.8 57.5 354 13.3 C322.2 -30.9 194.8 -3.4 163 13.3 C131.2 30 163 89.3 163 113.3Z" fill="#bbf116"/>
<path d="M207 147.3 C208.2 145.2 213.1 141.9 216 140.3 C218.9 138.7 221.6 138.8 224.7 137.8 C227.8 136.9 231.5 135.5 234.4 134.6 C237.3 133.7 240 132.6 242.1 132.6 C244.2 132.6 246 133.8 247 134.6 C248 135.4 248.3 136.5 248 137.5 C247.7 138.5 246.6 139.6 245 140.4 C243.4 141.2 240.7 141.7 238.3 142.3 C235.9 143 233.1 143.5 230.5 144.3 C227.9 145.1 225.1 146.3 222.8 147.1 C220.6 147.9 219.3 148.2 217 149.1 C214.7 150.1 210.7 153.1 209 152.8 C207.3 152.5 205.8 149.4 207 147.3Z" fill="#f0ffc8"/>
<path d="M151.2 258.3 C117.4 251.7 151.8 242.6 151.2 238.7 C150.6 234.8 149.2 236.6 147.7 235.1 C146.2 233.6 144.4 231.5 142.3 229.7 C140.2 227.9 137.6 226.4 135.1 224.3 C132.6 222.2 129.1 219.9 127.2 217.2 C125.3 214.5 124.2 211.3 123.6 208.2 C123 205.1 123.5 201.2 123.8 198.5 C124.1 195.8 124.5 193.7 125.6 191.7 C126.7 189.7 128.3 188 130.2 186.7 C132.1 185.4 134.3 184.4 136.8 183.9 C139.3 183.4 142.3 183.4 145.1 183.7 C147.9 184 151.2 184.7 153.4 185.5 C155.6 186.3 156.9 187.8 158.4 188.8 C159.9 189.9 160.9 190.8 162.5 191.8 C164.1 192.9 166.1 194.3 168 195.1 C169.9 196 172 196.6 174 196.9 C176 197.2 177.9 197.7 180 196.9 C182.1 196.1 184.6 194.5 186.7 192.3 C188.8 190.1 190.3 186.1 192.5 183.5 C194.7 180.9 196.9 179.1 199.7 177 C202.5 174.9 206.2 172.8 209.4 171.2 C212.6 169.6 216.4 168.6 219.1 167.3 C221.8 166 224.2 164.9 225.8 163.4 C227.4 162 228 160.2 228.8 158.6 C229.6 157 229.9 155.2 230.7 153.8 C231.5 152.4 232 151 233.6 149.9 C235.2 148.8 238 147.5 240.4 147 C242.8 146.5 246.2 147.5 248.1 147 C250 146.5 251 145.2 252 144.1 C253 143 253.6 141.3 253.9 140.2 C254.2 139.1 254 138.9 253.8 137.5 C253.6 136.1 253.3 133.5 252.8 131.7 C252.3 129.9 251 128.4 250.8 126.8 C250.6 125.2 251.7 123.1 251.4 122 C251.1 120.9 249.6 120.3 248.9 120.1 C248.2 119.9 247.5 120.4 247 121 C246.5 121.6 247.1 123.3 246 123.9 C244.9 124.6 242.3 124.4 240.2 124.9 C238.1 125.4 235.4 125.9 233.4 126.8 C231.4 127.7 228.9 148.4 228 130.3 C227.1 112.2 207 37 228 18.3 C249 -0.4 333 -25 354 18.3 C375 61.6 387.8 238.3 354 278.3 C320.2 318.3 185 264.9 151.2 258.3Z" fill="#41e11e"/>
<ellipse cx="261.9" cy="154.7" rx="5.3" ry="5.3" fill="#bbf116"/>
<ellipse cx="261.9" cy="154.7" rx="2.1" ry="2.1" fill="#f0ffc8"/>
<ellipse cx="262.4" cy="246.1" rx="5.2" ry="5.6" fill="#bbf116"/>
<path d="M234 121.3 C234.4 138.8 235.1 123.2 236.3 123 C237.5 122.8 239.4 120.8 241 119.8 C242.6 118.8 243.9 117.8 246 117.2 C248.1 116.6 251.7 115.9 253.8 116.2 C255.9 116.5 257.5 117.7 258.6 119.1 C259.7 120.6 259.9 122.7 260.5 124.9 C261.1 127.2 261.5 130 262.5 132.6 C263.5 135.2 265.2 138 266.3 140.4 C267.4 142.8 268.5 145 269.2 147.1 C269.9 149.3 269.2 151.8 270.5 153.3 C271.8 154.8 271.8 155 277 156.3 C282.2 157.6 289.2 160.5 302 161.3 C314.8 162.1 345.3 185.1 354 161.3 C362.7 137.5 374 42.1 354 18.3 C334 -5.5 254 1.1 234 18.3 C214 35.5 233.6 103.9 234 121.3Z" fill="#19c850"/>
<ellipse cx="225.3" cy="199.8" rx="4.6" ry="4.6" fill="#19c850"/>
<path d="M274 167.3 C268.5 167.6 267.6 169.1 264 170.1 C260.4 171.1 255.5 172.5 252.7 173.3 C249.8 174.1 249 174.3 246.9 175 C244.8 175.7 242.1 176.6 240.2 177.4 C238.2 178.2 236.4 178.8 235.2 179.9 C234 181 233.4 182.4 232.8 184.1 C232.2 185.8 231.9 188.1 231.9 189.9 C231.9 191.7 232.9 193.4 232.8 194.9 C232.7 196.4 231.5 197.3 231.3 198.8 C231.2 200.3 231.7 202.4 231.9 204 C232.2 205.6 232.2 206.6 232.8 208.1 C233.4 209.6 233.5 211 235.2 212.8 C236.9 214.6 239.7 217 242.9 219 C246.1 221 251 223.2 254.5 224.8 C258 226.4 261.9 227.7 264.1 228.7 C266.4 229.7 264.2 229.8 268 230.6 C271.8 231.4 282.2 243.7 287 233.3 C291.8 222.9 299.2 179.3 297 168.3 C294.8 157.3 279.5 167 274 167.3Z" fill="#19c850"/>
<path d="M282.5 100.4 C282.5 98 282.9 94.9 283.6 92.7 C284.3 90.5 285.4 88.4 286.9 87.1 C288.4 85.8 290.4 85.1 292.4 84.9 C294.4 84.7 296.9 85.5 299 86.1 C301.1 86.7 303.2 87.9 305.2 88.4 C307.2 89 309.1 89.9 311 89.4 C312.9 88.9 315.2 86.5 316.8 85.5 C318.4 84.5 319.2 83.6 320.7 83.6 C322.1 83.6 324.3 84.4 325.5 85.5 C326.7 86.6 326.6 88.7 328 90.3 C329.4 91.9 332.3 92.8 334 95.3 C335.7 97.8 338.3 101.6 338 105.3 C337.7 109 335.3 115.3 332 117.3 C328.7 119.3 321.5 120 318 117.3 C314.5 114.6 312.8 104.6 311 101.3 C309.2 98 307.9 97.3 307 97.3 C306.1 97.3 305.4 99.3 305.3 101.3 C305.2 103.3 306.3 105.6 306.6 109.3 C306.9 113 307.7 120.7 307.2 123.3 C306.7 125.9 304.5 125.8 303.6 124.8 C302.7 123.8 302.2 119.7 302 117.3 C301.8 115 302.9 111.8 302.6 110.7 C302.3 109.6 301.4 110.6 300.1 110.8 C298.8 111 296.6 111.9 294.6 112 C292.6 112.1 289.8 112.2 288 111.4 C286.2 110.6 284.5 108.8 283.6 107 C282.7 105.2 282.5 102.8 282.5 100.4Z" fill="#41e11e"/>
<ellipse cx="321.1" cy="59.4" rx="2.5" ry="2.5" fill="#41e11e"/>
<path d="M277.5 76.8 C277.1 76.1 278.1 75.1 279 73.8 C279.9 72.5 281.7 70.3 283.2 68.8 C284.7 67.3 286.6 65.6 287.8 64.8 C289 64.1 290 63.8 290.6 64.3 C291.2 64.8 291.5 66.5 291.6 67.8 C291.8 69.1 291.9 71 291.5 72.3 C291.1 73.6 290.1 74.8 289 75.7 C287.9 76.6 286.2 77.5 285 77.9 C283.8 78.3 282.8 78.5 281.5 78.3 C280.2 78.1 277.9 77.6 277.5 76.8Z" fill="#41e11e"/>
<ellipse cx="281.2" cy="74.7" rx="1.6" ry="2.2" fill="#bbf116" transform="rotate(35 281.2 74.7)"/>
<path d="M285.8 104.5 C285.9 103.5 286.3 102.1 287 101.3 C287.7 100.5 289.4 100.6 290 99.9 C290.6 99.2 290.6 97.9 290.8 96.9 C291 95.9 290.9 94.6 291.4 93.9 C291.9 93.2 292.8 92.5 293.6 92.5 C294.4 92.5 295.5 93.1 296 93.7 C296.5 94.3 296.6 95.5 296.4 96.3 C296.2 97.1 295.6 98.1 295 98.7 C294.4 99.3 293.2 99.1 293 100.1 C292.8 101.1 293.9 103.2 293.7 104.5 C293.5 105.8 292.8 107 292 107.6 C291.2 108.2 289.9 108.4 289 108.3 C288.1 108.2 287.1 107.7 286.6 107.1 C286.1 106.5 285.7 105.5 285.8 104.5Z" fill="#bbf116"/>
<ellipse cx="289.7" cy="104.3" rx="1.4" ry="1.4" fill="#f0ffc8"/>
<ellipse cx="319.7" cy="90.4" rx="2" ry="2" fill="#bbf116"/>
<path d="M315.8 104.9 C315.9 102.5 316.7 101.4 317.8 100.1 C318.9 98.8 320.8 97.7 322.6 97.1 C324.4 96.5 326.6 96.3 328.4 96.6 C330.2 96.9 332.1 98 333.3 99.1 C334.5 100.2 335.5 101.4 335.8 103 C336.1 104.6 336 106.9 335.2 108.8 C334.4 110.7 332.9 112.9 331 114.3 C329.1 115.7 326.3 117.3 324 117.3 C321.7 117.3 318.4 116.4 317 114.3 C315.6 112.2 315.7 107.3 315.8 104.9Z" fill="#bbf116"/>
<ellipse cx="326.1" cy="104" rx="4.3" ry="4.3" fill="#f0ffc8"/>
<ellipse cx="326.1" cy="104" rx="1.3" ry="1.3" fill="#ffa046"/>
<path d="M230 121.3 C228.9 123.8 233.3 118.3 235.3 116.5 C237.3 114.7 239.6 111.7 242 110.3 C244.4 108.9 247.1 108.3 249.7 107.9 C252.3 107.5 254.9 107.3 257.5 107.7 C260.1 108.1 262.9 109.5 265.2 110.5 C267.4 111.5 269.2 112.8 271 113.4 C272.8 114.1 274.5 114.7 275.8 114.4 C277.1 114.1 278.3 113 278.6 111.5 C278.9 110 278.2 107.6 277.8 105.7 C277.4 103.8 276.1 101.8 275.9 99.9 C275.7 98 276.1 95.9 276.4 94.1 C276.7 92.3 277.3 91.1 277.6 89.3 C277.9 87.5 277.9 85.1 278.2 83.3 C278.5 81.5 278.8 80 279.4 78.3 C280 76.6 281.1 74.9 282 73.3 C282.9 71.7 284.2 70.5 285 68.8 C285.8 67.1 288.7 62.9 286.5 63.3 C284.3 63.7 279.4 65 272 71.3 C264.6 77.6 249 93 242 101.3 C235 109.6 231.1 118.8 230 121.3Z" fill="#1ea08c"/>
<path d="M256 97.4 C256.3 96.2 260.6 94.1 262.7 92.4 C264.8 90.7 266.9 88.1 268.5 87.4 C270.1 86.7 271.8 87.5 272.6 88.3 C273.4 89.1 273.7 91 273.4 92.4 C273.1 93.8 272 95.5 270.9 96.6 C269.8 97.7 268.4 98.6 266.8 99.1 C265.2 99.7 262.8 100.2 261 99.9 C259.2 99.6 255.7 98.7 256 97.4Z" fill="#146e96"/>
<path d="M308 132.3 C304.9 133.3 307 136.7 305.5 138.1 C304 139.6 301.2 140.7 298.8 141 C296.4 141.3 293.6 139.8 291 140 C288.4 140.2 285.6 141 283.3 142 C281 143 279.1 144.2 277.4 145.8 C275.7 147.4 274 149.2 272.9 151.6 C271.8 154 271.2 157.5 270.7 160.4 C270.1 163.3 270.3 166.6 269.6 169.2 C268.9 171.8 267.2 173.7 266.3 175.9 C265.4 178.1 264.7 180.3 264.1 182.5 C263.6 184.7 263.1 187 263 189.1 C262.9 191.2 263.2 192.9 263.5 195.3 C263.8 197.7 264.2 200.6 265 203.3 C265.8 206 266.8 208.5 268 211.3 C269.2 214.1 267.7 218.8 272 220.3 C276.3 221.8 285.3 228.1 294 220.3 C302.7 212.5 319 188 324 173.3 C329 158.6 326.7 139.1 324 132.3 C321.3 125.5 311.1 131.3 308 132.3Z" fill="#1ea08c"/>
<path d="M281.6 172.3 C281.8 170.6 283.4 169.4 284.4 169.1 C285.4 168.8 287 169.3 287.6 170.3 C288.2 171.3 288.2 173.8 288 175.3 C287.8 176.8 287.4 178.8 286.6 179.5 C285.8 180.2 283.8 180.5 283 179.3 C282.2 178.1 281.4 174 281.6 172.3Z" fill="#146e96"/>
<ellipse cx="285.2" cy="184.6" rx="1.1" ry="1.1" fill="#146e96"/>
<path d="M305.4 158.8 L308.2 152.7 L311 148.5 L314.5 148.5 L319 159 L309 164 L306 162.5Z" fill="#146e96"/>
<ellipse cx="313.2" cy="150.7" rx="1.7" ry="1.7" fill="#0f2d7d"/>
<ellipse cx="307.6" cy="161.1" rx="1.5" ry="1.3" fill="#0f2d7d"/>
<ellipse cx="298.3" cy="148.5" rx="1.2" ry="1" fill="#bbf116"/>
<path d="M317.5 35.3 C317.8 33.6 318.8 32.8 321 32.3 C323.2 31.8 329.2 31.1 331 32.3 C332.8 33.5 332.3 37.1 332 39.3 C331.7 41.5 330.4 43.7 329.4 45.3 C328.4 46.9 327.3 48.5 326 48.8 C324.7 49.1 322.7 48.4 321.5 47.3 C320.3 46.2 319.7 44.3 319 42.3 C318.3 40.3 317.2 37 317.5 35.3Z" fill="#1ea08c"/>
<path d="M319 27.3 C318.9 25.5 320.2 24 322 23.3 C323.8 22.6 328.6 22.1 330 23.3 C331.4 24.6 330.6 28.8 330.4 30.8 C330.2 32.8 329.5 34.5 328.6 35.5 C327.7 36.5 326 37.1 325 36.9 C324 36.7 323.4 35.9 322.4 34.3 C321.4 32.7 319.1 29.1 319 27.3Z" fill="#146e96"/>
<ellipse cx="326.2" cy="31.7" rx="0.9" ry="1.6" fill="#0f2d7d"/>
<path d="M334 59.8 C334.4 58.6 335.4 57.1 336.6 56.5 C337.9 55.9 340.6 54.2 341.5 55.9 C342.4 57.6 342.6 65 342 66.8 C341.4 68.6 338.9 67 337.6 66.5 C336.3 66 335 65 334.4 63.9 C333.8 62.8 333.6 61 334 59.8Z" fill="#1ea08c"/>
<path d="M326.5 83.8 C326.9 82.3 328.2 80.9 329.5 80.1 C330.8 79.4 333.2 80.1 334.5 79.3 C335.8 78.5 336.2 76.3 337.5 75.3 C338.8 74.3 341.1 69.3 342 73.3 C342.9 77.3 343.5 95.3 343 99.3 C342.5 103.3 340.1 98.5 339 97.3 C337.9 96.1 337.9 92.8 336.6 91.9 C335.3 91 332.5 92.6 331 92.1 C329.5 91.6 328.1 90.3 327.4 88.9 C326.6 87.5 326.1 85.3 326.5 83.8Z" fill="#1ea08c"/>
<ellipse cx="328.4" cy="85" rx="1.3" ry="1.3" fill="#146e96"/>
<path d="M304.6 70.5 C304.7 69.3 305.8 67.5 306.8 66.7 C307.8 65.9 309.4 65.4 310.6 65.5 C311.8 65.6 313.1 66.3 313.8 67.3 C314.5 68.3 314.7 70.1 314.6 71.3 C314.5 72.5 313.9 74 313 74.7 C312.1 75.4 310.6 75.6 309.4 75.5 C308.2 75.4 306.8 74.7 306 73.9 C305.2 73.1 304.5 71.7 304.6 70.5Z" fill="#1ea08c"/>
<path d="M309.2 69.3 C309.5 68.4 310.4 68.1 311 68.1 C311.6 68.1 312.7 68.6 313 69.5 C313.3 70.4 313.3 72.4 313 73.3 C312.7 74.2 311.6 74.7 311 74.7 C310.4 74.7 309.7 74.2 309.4 73.3 C309.1 72.4 308.9 70.2 309.2 69.3Z" fill="#146e96"/>
<path d="M338.4 64.3 C339.3 63.5 343.1 61.6 344 64.3 C344.9 67 344.9 77.7 344 80.3 C343.1 82.9 339.9 80.9 338.8 79.9 C337.7 78.9 337.2 76.1 337.2 74.3 C337.2 72.5 338.4 71 338.6 69.3 C338.8 67.6 337.5 65.1 338.4 64.3Z" fill="#1ea08c"/>
<ellipse cx="293.3" cy="116.3" rx="3.9" ry="3.9" fill="#1ea08c"/>
<ellipse cx="275.3" cy="133.2" rx="1.5" ry="1.5" fill="#1ea08c"/>
<path d="M101.2 154.3 C101.5 152.2 102.2 147.1 103.5 145.3 C104.8 143.5 107.4 143.3 109.2 143.3 C111 143.3 111.6 144.8 114.1 145.3 C116.6 145.8 121.1 146.1 124.1 146.3 C127.1 146.5 129.2 146.1 132 146.3 C134.8 146.5 139.2 145.8 140.7 147.3 C142.2 148.8 142.6 153.4 141.2 155.3 C139.8 157.2 134.4 157.9 132 158.8 C129.6 159.7 128.8 159.9 126.6 160.6 C124.4 161.3 121.6 162.5 119.1 163.1 C116.6 163.7 114 164.5 111.7 164.3 C109.4 164.1 107.1 162.8 105.4 161.8 C103.7 160.8 102.4 159.4 101.7 158.1 C101 156.9 100.9 156.4 101.2 154.3Z" fill="#ffa046"/>
<ellipse cx="51" cy="148.9" rx="3.4" ry="6.2" fill="#bbf116" transform="rotate(-28 51 148.9)"/>
<path d="M44 129.3 L50 129.3 L49.4 137.3 L46.4 138.8Z" fill="#ffa046"/>
<path d="M66 181.3 C67.8 180.5 71.1 187.5 73.1 188.2 C75.1 188.9 75.8 186 78.1 185.7 C80.4 185.4 84.1 185.4 86.8 186.2 C89.5 187 92.3 188.7 94.3 190.7 C96.3 192.7 97.6 195.4 98.8 198.1 C100 200.8 100.9 204.2 101.2 206.8 C101.5 209.4 101 211.7 100.6 213.8 C100.2 215.9 99.5 217.4 99 219.3 C98.5 221.2 100.3 224.3 97.5 225.3 C94.7 226.3 87.9 230.6 82 225.3 C76.1 220 64.7 200.6 62 193.3 C59.3 186 64.2 182.2 66 181.3Z" fill="#ffa046"/>
<path d="M72 191.3 C73.2 189.8 77.1 194 79.4 194.4 C81.7 194.8 83.5 193 85.6 193.6 C87.7 194.2 90.2 196.3 91.8 198.1 C93.4 199.9 94.7 202.4 95.2 204.3 C95.7 206.2 95.2 208.3 94.8 209.8 C94.4 211.3 93.5 212.1 92.7 213.3 C91.9 214.6 93.5 219 90 217.3 C86.5 215.6 75 207.6 72 203.3 C69 199 70.8 192.8 72 191.3Z" fill="#e67a2d"/>
</g>
<path d="M46.6 132.5 L48.3 135 L49.1 139.1 L50.4 144 L53.5 144.2 L54.6 139.1 L56.6 139.9 L57.4 143.2 L56.6 148.2 L57.4 153.2 L59.9 157.3 L63.2 159.8 L67.4 159.5 L70.7 160.7 L75.7 160.7 L78.1 162.3 L83.1 161.2 L89.8 159 L96.4 155.7 L100 152 L103.3 150.7 L105.8 148.2 L108.3 147.4 L110.8 149.9 L116.6 150.7 L124.9 151.5 L133.2 151.8 L139.8 151.2 L143.1 149.9 L146.4 152.3 L149.8 154.8 L154.7 154.8 L160 154.2 L167.5 157.7 L177.4 159.2 L187.4 157.7 L194.8 152.2 L203.5 148.5 L213.5 147.3 L222.2 144.3 L228.4 139.8 L232.6 133.6 L234.6 126.1 L234.1 118.7 L235.5 114.5 L235.8 110.7 L241.6 106.6 L248.2 103.3 L252.4 99.1 L257.3 95.8 L261.5 92.5 L264.9 89 L268.2 84.9 L271.6 80.7 L274.9 76.6 L279 72.4 L283.2 68.3 L287.3 63.3 L290.3 58.5 L295 54 L300 51.5 L304.1 49.9 L308.2 47.4 L313.2 44 L316.5 41.6 L319.5 38.2 L320.7 34.9 L321.5 31.6 L322.3 28.3 L324 26.6 L327.3 26.3 L328.5 28.3 L329.5 32.4 L329 35.8 L327.8 39.1 L327.8 43.2 L328.1 47.4 L329 50.7 L329.8 54 L332.3 55.7 L338.1 57.3 L339.5 58.5 L340 61.6 L340 71.6 L339.4 76.5 L339.8 81.5 L339.8 95 L338 101.6 L334.8 106.5 L330.6 110.7 L326.5 114 L322.3 113.2 L319.9 109.9 L318.5 106.5 L316.5 104.9 L319 103.2 L319.9 99.9 L317.4 98.2 L313.2 98.2 L309 99.9 L306.6 103.2 L306.6 108.2 L307.4 113.2 L307 118 L307.3 121.5 L305.7 125.7 L303.2 130 L305.7 134.1 L307.1 138.3 L306.5 141.6 L304.9 144.4 L303.8 146.6 L305.4 148.3 L308.2 149.9 L311 149.1 L314 149.4 L315.9 153.2 L317.9 158.2 L314.8 159.9 L311.5 161.5 L308.8 162.6 L306 162.1 L302.7 161 L299.4 161.5 L294.9 163.2 L290.5 165.4 L287.2 168.1 L284.8 170.5 L285.2 174.9 L286.5 179.9 L289 184.9 L289.8 189 L288.1 193.2 L285.7 197.3 L279.7 205 L274.8 213.2 L270.6 221.5 L268.4 226.5 L267.6 235 L267.2 250.6 L263.1 253.5 L243.2 251.5 L226.6 249.9 L210 247.4 L150 238.6 L104 231.5 L78.9 195 L54.8 160 L50 153.2 L45.8 146.6 L46.3 140Z" fill="none" stroke="#6a7434" stroke-width="0.55" stroke-linejoin="round"/>
<path d="M46.6 132.5 L48.3 135 L49.1 139.1 L50.4 144 L53.5 144.2 L54.6 139.1 L56.6 139.9 L57.4 143.2 L56.6 148.2 L57.4 153.2 L59.9 157.3 L63.2 159.8 L67.4 159.5 L70.7 160.7 L75.7 160.7 L78.1 162.3 L83.1 161.2 L89.8 159 L96.4 155.7 L100 152 L103.3 150.7 L105.8 148.2 L108.3 147.4 L110.8 149.9 L116.6 150.7 L124.9 151.5 L133.2 151.8 L139.8 151.2 L143.1 149.9 L146.4 152.3 L149.8 154.8 L154.7 154.8 L160 154.2 L167.5 157.7 L177.4 159.2 L187.4 157.7 L194.8 152.2 L203.5 148.5 L213.5 147.3 L222.2 144.3 L228.4 139.8 L232.6 133.6 L234.6 126.1 L234.1 118.7 L235.5 114.5 L235.8 110.7 L241.6 106.6 L248.2 103.3 L252.4 99.1 L257.3 95.8 L261.5 92.5 L264.9 89 L268.2 84.9 L271.6 80.7 L274.9 76.6 L279 72.4 L283.2 68.3 L287.3 63.3 L290.3 58.5 L295 54 L300 51.5 L304.1 49.9 L308.2 47.4 L313.2 44 L316.5 41.6 L319.5 38.2 L320.7 34.9 L321.5 31.6 L322.3 28.3 L324 26.6 L327.3 26.3 L328.5 28.3 L329.5 32.4 L329 35.8 L327.8 39.1 L327.8 43.2 L328.1 47.4 L329 50.7 L329.8 54 L332.3 55.7 L338.1 57.3 L339.5 58.5 L340 61.6 L340 71.6 L339.4 76.5 L339.8 81.5 L339.8 95 L338 101.6 L334.8 106.5 L330.6 110.7 L326.5 114" fill="none" stroke="#2e2e22" stroke-width="0.55" stroke-linejoin="round"/>
<path d="M332.4 78.6 C332.5 77.9 333.3 77 334 76.7 C334.7 76.4 336 76.3 336.6 76.6 C337.2 76.9 337.5 77.9 337.4 78.6 C337.3 79.3 336.7 80.3 336 80.6 C335.3 80.9 334 80.9 333.4 80.6 C332.8 80.3 332.3 79.2 332.4 78.6Z" fill="#fff" stroke="#222" stroke-width="0.5"/>
<path d="M108.3 140.8 L108.1 143.6" fill="none" stroke="#3c3a26" stroke-width="0.6"/>
<ellipse cx="108.3" cy="138.3" rx="2.4" ry="2.6" fill="#ffa046" stroke="#3c3a26" stroke-width="0.6"/>
<path d="M91.4 127.3 L91.2 129.6" fill="none" stroke="#3c3a26" stroke-width="0.6"/>
<ellipse cx="91.5" cy="125.8" rx="1.4" ry="1.5" fill="#ffa046" stroke="#3c3a26" stroke-width="0.6"/>
<path d="M71.6 141.5 L72.6 141.7 L71.4 146.2 L70.4 146 Z" fill="#fff" stroke="#3c3a26" stroke-width="0.6"/>
<path d="M172.5 151.5 C172.7 150.6 173.9 149.5 175 148.8 C176.1 148.1 177.7 147.7 179 147.2 C180.3 146.7 181.8 146.2 183 146 C184.2 145.8 185.6 145.8 186.5 146.2 C187.4 146.6 187.6 147.6 188.2 148.5 C188.8 149.4 189.9 150.5 190 151.5 C190.1 152.5 189.3 153.8 188.5 154.5 C187.7 155.2 186.2 155.7 185 155.8 C183.8 155.9 182.3 155 181 155 C179.7 155 178.2 155.9 177 155.8 C175.8 155.7 174.6 155.2 173.8 154.5 C173.1 153.8 172.3 152.4 172.5 151.5Z" fill="#bbf116" stroke="#3c3a26" stroke-width="0.6"/>
<path d="M145.3 141.2 C145.3 140.8 147.1 140.2 148 140.2 C148.9 140.2 150 141 151 141 C152 141 153.3 140.1 154 140.3 C154.7 140.5 155.3 141.5 155 142 C154.7 142.5 153.2 143.1 152 143.2 C150.8 143.3 149.1 143.1 148 142.8 C146.9 142.5 145.3 141.6 145.3 141.2Z" fill="#fff" stroke="#3c3a26" stroke-width="0.6"/>
<path d="M156.6 146 C156.8 145.7 158 146.3 158.3 146.8 C158.6 147.3 158.8 148.7 158.6 149 C158.3 149.3 157.1 148.9 156.8 148.4 C156.5 147.9 156.3 146.3 156.6 146Z" fill="#fff" stroke="#3c3a26" stroke-width="0.6"/>
<path d="M153.2 121.5 C153.4 120.8 154.4 121.8 154.6 122.5 C154.8 123.2 154.1 124.9 154.3 126 C154.5 127.1 155.6 128.4 155.6 129 C155.6 129.6 155 130 154.6 129.6 C154.2 129.2 153.4 127.8 153.2 126.5 C153 125.2 153 122.2 153.2 121.5Z" fill="#fff" stroke="#3c3a26" stroke-width="0.6"/>
<path d="M191.5 151.7 C191.5 151.4 191.7 151 192.1 150.6 C192.4 150.2 193.4 149.4 193.8 149.2 C194.2 148.9 194.5 149 194.8 149 C195.1 149 195.8 148.9 195.7 149.3 C195.6 149.6 194.7 150.8 194.2 151.3 C193.6 151.8 192.2 152.5 191.8 152.6 C191.4 152.6 191.4 152 191.5 151.7Z" fill="#fff" stroke="#3c3a26" stroke-width="0.6"/>
<path d="M197.6 152.9 C197.2 153.1 196.8 153.4 196.5 153.2 C196.2 153.1 195.6 152.2 195.5 151.8 C195.4 151.4 195.5 150.9 195.8 150.7 C196 150.4 197 150.2 197.3 150.2 C197.7 150.2 197.8 150.6 198 150.9 C198.3 151.2 198.8 151.7 198.8 152 C198.7 152.3 197.9 152.7 197.6 152.9Z" fill="#ffa046" stroke="#3c3a26" stroke-width="0.6"/>
<path d="M198.2 147.9 C198.7 147.6 199.4 147.3 199.7 147.3 C200.1 147.3 200.7 147.6 200.7 148 C200.7 148.5 200 149.8 199.6 150.1 C199.2 150.5 198.5 150.5 198 150.6 C197.5 150.7 196.4 151 196.2 150.8 C196.1 150.6 196.5 149.9 196.8 149.4 C197.1 149 197.8 148.2 198.2 147.9Z" fill="#fff" stroke="#3c3a26" stroke-width="0.6"/>
<path d="M203.3 151.7 C202.8 152 201.9 152 201.4 151.8 C201 151.6 200.3 151 200.3 150.4 C200.3 149.9 201.2 148.8 201.6 148.4 C202 148 202.6 147.8 203.1 147.8 C203.6 147.8 204.9 147.9 205.2 148.1 C205.5 148.4 205.2 149.2 204.9 149.7 C204.7 150.2 203.9 151.4 203.3 151.7Z" fill="#ffa046" stroke="#3c3a26" stroke-width="0.6"/>
<path d="M202.4 144.4 C202.2 144.8 201.8 145.3 201.5 145.5 C201.3 145.6 200.9 145.6 200.6 145.5 C200.3 145.4 199.8 145.3 199.7 145 C199.6 144.7 200 143.7 200.3 143.3 C200.5 142.9 201.2 142.4 201.6 142.4 C202.1 142.3 202.8 142.6 202.9 143 C203 143.3 202.6 144.1 202.4 144.4Z" fill="#ffa046" stroke="#3c3a26" stroke-width="0.6"/>
<path d="M207.5 145.7 C207.3 146.3 206.9 147.1 206.4 147.5 C205.9 147.9 204.4 148.4 204 148.3 C203.6 148.1 203.8 147 203.8 146.5 C203.8 146 203.6 145.4 204 144.8 C204.4 144.3 205.8 143.1 206.4 143 C206.9 142.8 207.7 143.4 207.9 143.8 C208 144.2 207.7 145.1 207.5 145.7Z" fill="#fff" stroke="#3c3a26" stroke-width="0.6"/>
<path d="M206.8 137.9 C207.3 137.7 207.8 138.2 207.9 138.5 C208.1 138.8 208.1 139.4 207.8 139.9 C207.6 140.4 206.7 141.5 206.3 141.9 C205.8 142.2 205 142.5 204.6 142.4 C204.3 142.3 204.1 141.7 204.1 141.3 C204.1 140.9 204.4 140.3 204.8 139.7 C205.2 139.2 206.3 138.1 206.8 137.9Z" fill="#bbf116" stroke="#3c3a26" stroke-width="0.6"/>
<path d="M213 144.2 C212.7 144.8 212 145.3 211.5 145.8 C210.9 146.3 209.8 147.4 209.4 147.4 C209 147.4 208.7 146.3 208.8 145.8 C208.9 145.3 209.6 144.5 210 144 C210.5 143.5 211.1 142.9 211.7 142.6 C212.2 142.3 213.4 141.8 213.7 142 C213.9 142.3 213.3 143.6 213 144.2Z" fill="#fff" stroke="#3c3a26" stroke-width="0.6"/>
<path d="M210.5 143.4 C210.3 143.1 209.8 142.8 210.1 142.4 C210.4 142 211.7 141.2 212.2 140.9 C212.7 140.7 213.1 140.7 213.3 140.8 C213.6 140.8 214.1 141.1 213.9 141.5 C213.8 141.8 212.9 142.8 212.5 143.2 C212.1 143.7 211.6 144.1 211.3 144.2 C211 144.2 210.6 143.7 210.5 143.4Z" fill="#bbf116" stroke="#3c3a26" stroke-width="0.6"/>
<path d="M218.5 143 C219.1 142.5 220.3 142.3 220.7 142.3 C221.2 142.3 221.3 142.7 221.5 143.1 C221.6 143.4 222 144.2 221.7 144.7 C221.5 145.2 220.3 145.9 219.7 146.2 C219 146.6 217.9 147 217.5 146.9 C217.1 146.7 216.7 146 216.9 145.4 C217 144.8 218 143.4 218.5 143Z" fill="#fff" stroke="#3c3a26" stroke-width="0.6"/>
<path d="M210.2 134.2 C210.4 133.8 211 133 211.5 132.7 C212 132.4 213 132.2 213.4 132.3 C213.8 132.3 214 132.6 214 133 C214.1 133.3 213.9 134.1 213.6 134.4 C213.2 134.7 212.4 135 211.9 135.1 C211.4 135.3 210.7 135.5 210.5 135.4 C210.2 135.2 210 134.5 210.2 134.2Z" fill="#fff" stroke="#3c3a26" stroke-width="0.6"/>
<path d="M222.9 136.8 C223.1 136.9 222.8 137.7 222.7 138.1 C222.7 138.5 222.7 139.3 222.4 139.6 C222.2 139.9 221.5 140.2 220.9 140.2 C220.4 140.3 219.1 140.5 218.9 140.2 C218.7 139.9 219.3 138.7 219.6 138.3 C220 137.9 220.6 137.7 221.1 137.5 C221.6 137.3 222.6 136.7 222.9 136.8Z" fill="#bbf116" stroke="#3c3a26" stroke-width="0.6"/>
<path d="M217.2 134 C216.8 133.9 216.9 132.7 217 132.2 C217 131.7 217.2 131.1 217.5 130.8 C217.9 130.4 218.9 129.8 219.4 129.7 C219.8 129.6 220.4 130 220.6 130.2 C220.9 130.5 221.2 131.1 221 131.6 C220.9 132 220 133.1 219.5 133.5 C218.9 133.8 217.6 134.2 217.2 134Z" fill="#fff" stroke="#3c3a26" stroke-width="0.6"/>
<path d="M222.8 137.4 C222.8 137.1 223.3 136.3 223.6 135.7 C223.9 135.2 224.5 134.2 225 134 C225.5 133.7 226.5 133.9 226.9 134 C227.4 134.1 228.1 134.3 228 134.7 C227.9 135.1 226.8 136.3 226.3 136.8 C225.7 137.3 224.6 138 224.1 138.1 C223.6 138.2 222.9 137.8 222.8 137.4Z" fill="#fff" stroke="#3c3a26" stroke-width="0.6"/>
<path d="M222.7 131.4 C223.2 131.1 224 130.7 224.4 130.7 C224.7 130.8 225 131.5 225 131.8 C225 132.2 224.8 132.8 224.5 133.2 C224.2 133.5 223.4 134.1 222.9 134.2 C222.5 134.3 222 134.2 221.7 134 C221.5 133.8 221.1 133.3 221.3 132.9 C221.4 132.5 222.2 131.8 222.7 131.4Z" fill="#fff" stroke="#3c3a26" stroke-width="0.6"/>
<path d="M231.1 132.2 C231.4 132.3 231.2 133.3 231.1 133.7 C231 134.1 230.8 134.5 230.5 134.8 C230.3 135.1 229.9 135.4 229.5 135.5 C229 135.6 227.8 135.6 227.6 135.3 C227.4 135 227.7 133.8 228 133.4 C228.3 133 229 132.8 229.4 132.6 C229.9 132.4 230.9 132 231.1 132.2Z" fill="#fff" stroke="#3c3a26" stroke-width="0.6"/>
<path d="M224.7 127 C224.2 127.1 223.2 126.5 223 126.1 C222.8 125.7 223.1 124.5 223.4 124.1 C223.7 123.7 224.5 123.5 224.9 123.4 C225.3 123.3 225.9 123.3 226.2 123.6 C226.4 123.8 226.7 124.9 226.6 125.2 C226.6 125.6 226.1 125.7 225.8 126 C225.5 126.3 225.1 127 224.7 127Z" fill="#fff" stroke="#3c3a26" stroke-width="0.6"/>
<path d="M230.8 126 C231 126.2 230.4 127.2 230.1 127.6 C229.9 128.1 229.7 128.8 229.3 129 C229 129.3 228 129.4 227.6 129.4 C227.2 129.4 226.8 129.2 226.7 129 C226.7 128.7 227.1 128.2 227.5 127.8 C227.8 127.5 228.3 126.7 228.8 126.4 C229.3 126.1 230.6 125.9 230.8 126Z" fill="#fff" stroke="#3c3a26" stroke-width="0.6"/>
<path d="M227 122.6 C227.2 122.1 227.7 121.4 228.1 121.2 C228.4 121 229.2 121 229.4 121.1 C229.6 121.2 229.6 121.6 229.5 121.9 C229.4 122.3 228.9 123.2 228.5 123.5 C228.2 123.8 227.7 124 227.4 124 C227 124.1 226.2 124.2 226.2 123.9 C226.1 123.7 226.7 123 227 122.6Z" fill="#fff" stroke="#3c3a26" stroke-width="0.6"/>
<path d="M232.1 125.5 C231.9 125.8 231.6 126.3 231.2 126.5 C230.9 126.8 229.9 127.3 229.7 127.2 C229.4 127.2 229.4 126.7 229.5 126.3 C229.6 126 230 125.4 230.3 125 C230.6 124.7 231.1 124.4 231.5 124.2 C231.8 124 232.6 123.8 232.7 123.9 C232.8 124.1 232.3 125.1 232.1 125.5Z" fill="#fff" stroke="#3c3a26" stroke-width="0.6"/>
<path d="M230.8 119.9 C231.4 119.5 232.7 118.8 233 118.8 C233.3 118.9 233.2 119.8 232.9 120.3 C232.7 120.8 232 121.6 231.4 122.2 C230.9 122.7 229.7 123.8 229.2 124 C228.7 124.2 228.2 123.9 228.2 123.6 C228.2 123.3 228.9 122.4 229.3 121.8 C229.7 121.3 230.3 120.4 230.8 119.9Z" fill="#fff" stroke="#3c3a26" stroke-width="0.6"/>
<path d="M233.9 121.9 C233.5 122.5 232.8 123.2 232.3 123.4 C231.8 123.7 231.1 123.6 230.8 123.5 C230.6 123.4 230.3 123 230.4 122.6 C230.4 122.2 230.9 121.4 231.3 121 C231.7 120.5 232.2 120 232.8 119.7 C233.3 119.5 234.8 119.1 234.9 119.4 C235.1 119.7 234.3 121.3 233.9 121.9Z" fill="#fff" stroke="#3c3a26" stroke-width="0.6"/>
<path d="M233.4 115.6 C233.6 115.7 233.7 116.3 233.5 116.6 C233.3 117 232.5 117.6 232.2 117.9 C231.8 118.1 231.2 118.3 231 118.3 C230.7 118.2 230.3 118 230.3 117.7 C230.3 117.4 230.7 116.6 230.9 116.2 C231.2 115.9 231.7 115.4 232.1 115.3 C232.4 115.2 233.2 115.4 233.4 115.6Z" fill="#fff" stroke="#3c3a26" stroke-width="0.6"/>
<path d="M234.2 115.1 C234.8 115 236 114.6 236.2 114.9 C236.4 115.3 236 116.6 235.7 117.2 C235.4 117.7 234.8 118.5 234.2 118.8 C233.6 119.2 232.1 119.6 231.6 119.5 C231.1 119.4 230.8 118.4 231 117.9 C231.1 117.4 231.8 116.4 232.3 115.9 C232.8 115.5 233.6 115.3 234.2 115.1Z" fill="#fff" stroke="#3c3a26" stroke-width="0.6"/>
<path d="M190.6 153.6 C190.5 153 192.2 151.4 193 151 C193.8 150.6 195.1 150.8 195.2 151.4 C195.3 152 194.3 154.2 193.5 154.6 C192.7 155 190.7 154.2 190.6 153.6Z" fill="#fff" stroke="#3c3a26" stroke-width="0.6"/>
<circle cx="54" cy="122.5" r="0.45" fill="#3c3a26"/>
<circle cx="53.5" cy="127" r="0.45" fill="#3c3a26"/>
<circle cx="62" cy="113.8" r="0.45" fill="#3c3a26"/>
<circle cx="76" cy="127.5" r="0.45" fill="#3c3a26"/>
<circle cx="120.5" cy="135.2" r="0.45" fill="#3c3a26"/>
<circle cx="127" cy="140" r="0.45" fill="#3c3a26"/>
<circle cx="139" cy="146.5" r="0.45" fill="#3c3a26"/>
<circle cx="103" cy="131" r="0.45" fill="#3c3a26"/>
<circle cx="100.2" cy="139.2" r="0.45" fill="#3c3a26"/>
<circle cx="121" cy="147" r="0.45" fill="#3c3a26"/>
<circle cx="168" cy="120" r="0.45" fill="#3c3a26"/>
<circle cx="165" cy="112" r="0.45" fill="#3c3a26"/>
<circle cx="130" cy="116" r="0.45" fill="#3c3a26"/>
<circle cx="95" cy="106" r="0.45" fill="#3c3a26"/>
<circle cx="85" cy="97" r="0.45" fill="#3c3a26"/>
<circle cx="146" cy="136" r="0.45" fill="#3c3a26"/>
<circle cx="236.5" cy="104.5" r="0.45" fill="#3c3a26"/>
<circle cx="240" cy="102.3" r="0.45" fill="#3c3a26"/>
<circle cx="243.6" cy="99.8" r="0.45" fill="#3c3a26"/>
<circle cx="296" cy="55.5" r="0.45" fill="#3c3a26"/>
<circle cx="293.3" cy="57.8" r="0.45" fill="#3c3a26"/>
<path d="M272 73.9 L277.4 75.6 M274.6 76.6 L276.6 82.2" stroke="#0a0a0a" stroke-width="0.7" fill="none"/>
<circle cx="271.7" cy="73.8" r="1.7" fill="#0a0a0a"/>
<path d="M267.2 79.9 L269.2 81.3 L267.4 83 Z" fill="#0a0a0a"/>
<circle cx="264.3" cy="88.6" r="1.4" fill="#0a0a0a"/>
<circle cx="255.6" cy="95.7" r="1.4" fill="#0a0a0a"/>
<circle cx="259.7" cy="95.2" r="1.0" fill="#0a0a0a"/>
<circle cx="269.6" cy="86.5" r="1.9" fill="#ffef1e" stroke="#b9a500" stroke-width="0.35"/>
<circle cx="309.8" cy="78.5" r="1.9" fill="#ffef1e" stroke="#b9a500" stroke-width="0.35"/>
<circle cx="219.7" cy="133.6" r="1.9" fill="#ffef1e" stroke="#b9a500" stroke-width="0.35"/>
<circle cx="175.3" cy="184.8" r="1.9" fill="#ffef1e" stroke="#b9a500" stroke-width="0.35"/>
<circle cx="301" cy="149.1" r="1.9" fill="#ffef1e" stroke="#b9a500" stroke-width="0.35"/>
<circle cx="289.5" cy="189" r="1.9" fill="#ffef1e" stroke="#b9a500" stroke-width="0.35"/>
<text x="266.2" y="83.8" font-size="5.6" text-anchor="end" font-weight="normal" fill="#111" stroke="#fff" stroke-width="1.6" stroke-linejoin="round" paint-order="stroke" stroke-opacity="0.9">DUBAI</text>
<text x="285" y="75.3" font-size="5.9" text-anchor="start" font-weight="normal" fill="#111" stroke="#fff" stroke-width="1.6" stroke-linejoin="round" paint-order="stroke" stroke-opacity="0.9">Al Dhaid</text>
<text x="184.4" y="130.8" font-size="5.9" text-anchor="start" font-weight="normal" fill="#111" stroke="#fff" stroke-width="1.6" stroke-linejoin="round" paint-order="stroke" stroke-opacity="0.9">ABU DHABI</text>
<text x="132.8" y="182" font-size="5.9" text-anchor="start" font-weight="normal" fill="#111" stroke="#fff" stroke-width="1.6" stroke-linejoin="round" paint-order="stroke" stroke-opacity="0.9">Madinat Zayed</text>
<text x="283" y="145.6" font-size="5.9" text-anchor="start" font-weight="normal" fill="#111" stroke="#fff" stroke-width="1.6" stroke-linejoin="round" paint-order="stroke" stroke-opacity="0.9">Al Ain</text>
<text x="264.6" y="185.7" font-size="5.9" text-anchor="start" font-weight="normal" fill="#111" stroke="#fff" stroke-width="1.6" stroke-linejoin="round" paint-order="stroke" stroke-opacity="0.9">Al Wijan</text>
</g>
<rect x="15.5" y="19.5" width="332" height="243" fill="none" stroke="#000" stroke-width="1.15"/>
<path d="M15.8 262.5 v3.2" stroke="#000" stroke-width="0.9"/>
<text x="15.8" y="271.1" font-size="5.6" text-anchor="middle" fill="#222">-100000</text>
<path d="M46 262.5 v3.2" stroke="#000" stroke-width="0.9"/>
<text x="46" y="271.1" font-size="5.6" text-anchor="middle" fill="#222">-50000</text>
<path d="M76.2 262.5 v3.2" stroke="#000" stroke-width="0.9"/>
<text x="76.2" y="271.1" font-size="5.6" text-anchor="middle" fill="#222">0</text>
<path d="M106.4 262.5 v3.2" stroke="#000" stroke-width="0.9"/>
<text x="106.4" y="271.1" font-size="5.6" text-anchor="middle" fill="#222">50000</text>
<path d="M136.6 262.5 v3.2" stroke="#000" stroke-width="0.9"/>
<text x="136.6" y="271.1" font-size="5.6" text-anchor="middle" fill="#222">100000</text>
<path d="M166.8 262.5 v3.2" stroke="#000" stroke-width="0.9"/>
<text x="166.8" y="271.1" font-size="5.6" text-anchor="middle" fill="#222">150000</text>
<path d="M196.9 262.5 v3.2" stroke="#000" stroke-width="0.9"/>
<text x="196.9" y="271.1" font-size="5.6" text-anchor="middle" fill="#222">200000</text>
<path d="M227.1 262.5 v3.2" stroke="#000" stroke-width="0.9"/>
<text x="227.1" y="271.1" font-size="5.6" text-anchor="middle" fill="#222">250000</text>
<path d="M257.3 262.5 v3.2" stroke="#000" stroke-width="0.9"/>
<text x="257.3" y="271.1" font-size="5.6" text-anchor="middle" fill="#222">300000</text>
<path d="M287.5 262.5 v3.2" stroke="#000" stroke-width="0.9"/>
<text x="287.5" y="271.1" font-size="5.6" text-anchor="middle" fill="#222">350000</text>
<path d="M317.7 262.5 v3.2" stroke="#000" stroke-width="0.9"/>
<text x="317.7" y="271.1" font-size="5.6" text-anchor="middle" fill="#222">400000</text>
<path d="M15.5 46.2 h-3" stroke="#000" stroke-width="0.9"/>
<text transform="translate(11.9 46.2) rotate(-90)" font-size="5.5" text-anchor="middle" fill="#222">2850000</text>
<path d="M15.5 76.4 h-3" stroke="#000" stroke-width="0.9"/>
<text transform="translate(11.9 76.4) rotate(-90)" font-size="5.5" text-anchor="middle" fill="#222">2800000</text>
<path d="M15.5 106.5 h-3" stroke="#000" stroke-width="0.9"/>
<text transform="translate(11.9 106.5) rotate(-90)" font-size="5.5" text-anchor="middle" fill="#222">2750000</text>
<path d="M15.5 136.7 h-3" stroke="#000" stroke-width="0.9"/>
<text transform="translate(11.9 136.7) rotate(-90)" font-size="5.5" text-anchor="middle" fill="#222">2700000</text>
<path d="M15.5 166.9 h-3" stroke="#000" stroke-width="0.9"/>
<text transform="translate(11.9 166.9) rotate(-90)" font-size="5.5" text-anchor="middle" fill="#222">2650000</text>
<path d="M15.5 197.1 h-3" stroke="#000" stroke-width="0.9"/>
<text transform="translate(11.9 197.1) rotate(-90)" font-size="5.5" text-anchor="middle" fill="#222">2600000</text>
<path d="M15.5 227.2 h-3" stroke="#000" stroke-width="0.9"/>
<text transform="translate(11.9 227.2) rotate(-90)" font-size="5.5" text-anchor="middle" fill="#222">2550000</text>
<path d="M15.5 257.4 h-3" stroke="#000" stroke-width="0.9"/>
<path d="M76.4 19.5 v3.1" stroke="#000" stroke-width="0.9"/>
<text x="76.4" y="14.9" font-size="5.6" text-anchor="middle" fill="#222">52°E</text>
<path d="M136.8 19.5 v3.1" stroke="#000" stroke-width="0.9"/>
<text x="136.8" y="14.9" font-size="5.6" text-anchor="middle" fill="#222">53°E</text>
<path d="M197.2 19.5 v3.1" stroke="#000" stroke-width="0.9"/>
<text x="197.2" y="14.9" font-size="5.6" text-anchor="middle" fill="#222">54°E</text>
<path d="M257.6 19.5 v3.1" stroke="#000" stroke-width="0.9"/>
<text x="257.6" y="14.9" font-size="5.6" text-anchor="middle" fill="#222">55°E</text>
<path d="M318 19.5 v3.1" stroke="#000" stroke-width="0.9"/>
<text x="318" y="14.9" font-size="5.6" text-anchor="middle" fill="#222">56°E</text>
<path d="M347.5 30.7 h-3.2" stroke="#000" stroke-width="0.9"/>
<text transform="translate(356 30.7) rotate(-90)" font-size="5.6" text-anchor="middle" fill="#222">26°N</text>
<path d="M347.5 97.6 h-3.2" stroke="#000" stroke-width="0.9"/>
<text transform="translate(356 97.6) rotate(-90)" font-size="5.6" text-anchor="middle" fill="#222">25°N</text>
<path d="M347.5 164.5 h-3.2" stroke="#000" stroke-width="0.9"/>
<text transform="translate(356 164.5) rotate(-90)" font-size="5.6" text-anchor="middle" fill="#222">24°N</text>
<path d="M347.5 231.4 h-3.2" stroke="#000" stroke-width="0.9"/>
<text transform="translate(356 231.4) rotate(-90)" font-size="5.6" text-anchor="middle" fill="#222">23°N</text>
<rect x="15.1" y="288.5" width="332" height="243.1" fill="none" stroke="#000" stroke-width="1.15"/>
<path d="M44.3 531.6 v3.2" stroke="#000" stroke-width="0.9"/>
<text x="44.3" y="540.2" font-size="5.6" text-anchor="middle" fill="#222">-50000</text>
<path d="M74.5 531.6 v3.2" stroke="#000" stroke-width="0.9"/>
<text x="74.5" y="540.2" font-size="5.6" text-anchor="middle" fill="#222">0</text>
<path d="M104.6 531.6 v3.2" stroke="#000" stroke-width="0.9"/>
<text x="104.6" y="540.2" font-size="5.6" text-anchor="middle" fill="#222">50000</text>
<path d="M134.8 531.6 v3.2" stroke="#000" stroke-width="0.9"/>
<text x="134.8" y="540.2" font-size="5.6" text-anchor="middle" fill="#222">100000</text>
<path d="M165 531.6 v3.2" stroke="#000" stroke-width="0.9"/>
<text x="165" y="540.2" font-size="5.6" text-anchor="middle" fill="#222">150000</text>
<path d="M195.2 531.6 v3.2" stroke="#000" stroke-width="0.9"/>
<text x="195.2" y="540.2" font-size="5.6" text-anchor="middle" fill="#222">200000</text>
<path d="M225.3 531.6 v3.2" stroke="#000" stroke-width="0.9"/>
<text x="225.3" y="540.2" font-size="5.6" text-anchor="middle" fill="#222">250000</text>
<path d="M255.5 531.6 v3.2" stroke="#000" stroke-width="0.9"/>
<text x="255.5" y="540.2" font-size="5.6" text-anchor="middle" fill="#222">300000</text>
<path d="M285.7 531.6 v3.2" stroke="#000" stroke-width="0.9"/>
<text x="285.7" y="540.2" font-size="5.6" text-anchor="middle" fill="#222">350000</text>
<path d="M315.8 531.6 v3.2" stroke="#000" stroke-width="0.9"/>
<text x="315.8" y="540.2" font-size="5.6" text-anchor="middle" fill="#222">400000</text>
<path d="M346 531.6 v3.2" stroke="#000" stroke-width="0.9"/>
<text x="346" y="540.2" font-size="5.6" text-anchor="middle" fill="#222">450000</text>
<path d="M15.1 312.7 h-3" stroke="#000" stroke-width="0.9"/>
<text transform="translate(10.8 312.7) rotate(-90)" font-size="5.5" text-anchor="middle" fill="#222">2850000</text>
<path d="M15.1 342.8 h-3" stroke="#000" stroke-width="0.9"/>
<text transform="translate(10.8 342.8) rotate(-90)" font-size="5.5" text-anchor="middle" fill="#222">2800000</text>
<path d="M15.1 372.9 h-3" stroke="#000" stroke-width="0.9"/>
<text transform="translate(10.8 372.9) rotate(-90)" font-size="5.5" text-anchor="middle" fill="#222">2750000</text>
<path d="M15.1 403 h-3" stroke="#000" stroke-width="0.9"/>
<text transform="translate(10.8 403) rotate(-90)" font-size="5.5" text-anchor="middle" fill="#222">2700000</text>
<path d="M15.1 433.1 h-3" stroke="#000" stroke-width="0.9"/>
<text transform="translate(10.8 433.1) rotate(-90)" font-size="5.5" text-anchor="middle" fill="#222">2650000</text>
<path d="M15.1 463.2 h-3" stroke="#000" stroke-width="0.9"/>
<text transform="translate(10.8 463.2) rotate(-90)" font-size="5.5" text-anchor="middle" fill="#222">2600000</text>
<path d="M15.1 493.3 h-3" stroke="#000" stroke-width="0.9"/>
<text transform="translate(10.8 493.3) rotate(-90)" font-size="5.5" text-anchor="middle" fill="#222">2550000</text>
<path d="M15.1 523.4 h-3" stroke="#000" stroke-width="0.9"/>
<text transform="translate(10.8 523.4) rotate(-90)" font-size="5.5" text-anchor="middle" fill="#222">2500000</text>
<path d="M74.3 288.5 v3.1" stroke="#000" stroke-width="0.9"/>
<text x="74.3" y="283.9" font-size="5.6" text-anchor="middle" fill="#222">52°E</text>
<path d="M134.7 288.5 v3.1" stroke="#000" stroke-width="0.9"/>
<text x="134.7" y="283.9" font-size="5.6" text-anchor="middle" fill="#222">53°E</text>
<path d="M195.1 288.5 v3.1" stroke="#000" stroke-width="0.9"/>
<text x="195.1" y="283.9" font-size="5.6" text-anchor="middle" fill="#222">54°E</text>
<path d="M255.5 288.5 v3.1" stroke="#000" stroke-width="0.9"/>
<text x="255.5" y="283.9" font-size="5.6" text-anchor="middle" fill="#222">55°E</text>
<path d="M315.9 288.5 v3.1" stroke="#000" stroke-width="0.9"/>
<text x="315.9" y="283.9" font-size="5.6" text-anchor="middle" fill="#222">56°E</text>
<path d="M347.1 297 h-3.2" stroke="#000" stroke-width="0.9"/>
<text transform="translate(355.6 297) rotate(-90)" font-size="5.6" text-anchor="middle" fill="#222">26°N</text>
<path d="M347.1 363.9 h-3.2" stroke="#000" stroke-width="0.9"/>
<text transform="translate(355.6 363.9) rotate(-90)" font-size="5.6" text-anchor="middle" fill="#222">25°N</text>
<path d="M347.1 430.8 h-3.2" stroke="#000" stroke-width="0.9"/>
<text transform="translate(355.6 430.8) rotate(-90)" font-size="5.6" text-anchor="middle" fill="#222">24°N</text>
<path d="M347.1 497.7 h-3.2" stroke="#000" stroke-width="0.9"/>
<text transform="translate(355.6 497.7) rotate(-90)" font-size="5.6" text-anchor="middle" fill="#222">23°N</text>
<rect x="20.3" y="27.7" width="107.3" height="66.9" fill="#fff" stroke="#c8c8c8" stroke-width="0.7"/>
<text x="25.2" y="36.1" font-size="6.78" font-weight="bold" fill="#111">Total annual precipitation (mm)</text>
<text x="25.2" y="43.5" font-size="6.74" font-weight="bold" fill="#111">in water year 2019-2020</text>
<rect x="24.3" y="47.6" width="13.7" height="6.3" fill="#ffff73" stroke="#9a9a9a" stroke-width="0.4"/>
<text x="40.9" y="52.6" font-size="4.7" fill="#222">24 - 50</text>
<rect x="24.3" y="57" width="13.7" height="6.3" fill="#ffffbe" stroke="#9a9a9a" stroke-width="0.4"/>
<text x="40.9" y="62" font-size="4.7" fill="#222">51 - 100</text>
<rect x="24.3" y="66.4" width="13.7" height="6.3" fill="#a0fb84" stroke="#9a9a9a" stroke-width="0.4"/>
<text x="40.9" y="71.4" font-size="4.7" fill="#222">101 - 150</text>
<rect x="24.3" y="75.8" width="13.7" height="6.3" fill="#00e128" stroke="#9a9a9a" stroke-width="0.4"/>
<text x="40.9" y="80.8" font-size="4.7" fill="#222">151 - 200</text>
<rect x="24.3" y="85.2" width="13.7" height="6.3" fill="#0a7dae" stroke="#9a9a9a" stroke-width="0.4"/>
<text x="40.9" y="90.2" font-size="4.7" fill="#222">201 - 250</text>
<rect x="70.6" y="47.6" width="13.7" height="6.3" fill="#bee8ff" stroke="#9a9a9a" stroke-width="0.4"/>
<text x="87.2" y="52.6" font-size="4.7" fill="#222">251 - 300</text>
<rect x="70.6" y="57" width="13.7" height="6.3" fill="#73b2ff" stroke="#9a9a9a" stroke-width="0.4"/>
<text x="87.2" y="62" font-size="4.7" fill="#222">301 - 350</text>
<rect x="70.6" y="66.4" width="13.7" height="6.3" fill="#0070ff" stroke="#9a9a9a" stroke-width="0.4"/>
<text x="87.2" y="71.4" font-size="4.7" fill="#222">351 - 400</text>
<rect x="70.6" y="75.8" width="13.7" height="6.3" fill="#004da8" stroke="#9a9a9a" stroke-width="0.4"/>
<text x="87.2" y="80.8" font-size="4.7" fill="#222">401 - 450</text>
<rect x="70.6" y="85.2" width="13.7" height="6.3" fill="#002673" stroke="#9a9a9a" stroke-width="0.4"/>
<text x="87.2" y="90.2" font-size="4.7" fill="#222">451 - 500</text>
<text x="25.3" y="302.2" font-size="6.82" font-weight="bold" fill="#111">Deviation of precipitation in water year</text>
<text x="25.3" y="310.5" font-size="6.82" font-weight="bold" fill="#111">2019/2020 from average annual (mm)</text>
<rect x="25.5" y="317.5" width="13.2" height="6.2" fill="#cd5a37" stroke="#9a9a9a" stroke-width="0.35"/>
<text x="41.9" y="322.3" font-size="4.7" fill="#222">-25</text>
<rect x="25.5" y="326.9" width="13.2" height="6.2" fill="#e67a2d" stroke="#9a9a9a" stroke-width="0.35"/>
<text x="41.9" y="331.7" font-size="4.7" fill="#222">-24 - -15</text>
<rect x="25.5" y="336.3" width="13.2" height="6.2" fill="#ffa046" stroke="#9a9a9a" stroke-width="0.35"/>
<text x="41.9" y="341.1" font-size="4.7" fill="#222">-14 - 0</text>
<rect x="25.5" y="345.7" width="13.2" height="6.2" fill="#f0ffc8" stroke="#9a9a9a" stroke-width="0.35"/>
<text x="41.9" y="350.5" font-size="4.7" fill="#222">1 - 25</text>
<rect x="25.5" y="355.1" width="13.2" height="6.2" fill="#bbf116" stroke="#9a9a9a" stroke-width="0.35"/>
<text x="41.9" y="359.9" font-size="4.7" fill="#222">26 - 50</text>
<rect x="75.2" y="317.5" width="13.2" height="6.2" fill="#41e11e" stroke="#9a9a9a" stroke-width="0.35"/>
<text x="91.6" y="322.3" font-size="4.7" fill="#222">51 - 100</text>
<rect x="75.2" y="326.9" width="13.2" height="6.2" fill="#19c850" stroke="#9a9a9a" stroke-width="0.35"/>
<text x="91.6" y="331.7" font-size="4.7" fill="#222">101 - 150</text>
<rect x="75.2" y="336.3" width="13.2" height="6.2" fill="#1ea08c" stroke="#9a9a9a" stroke-width="0.35"/>
<text x="91.6" y="341.1" font-size="4.7" fill="#222">151 - 200</text>
<rect x="75.2" y="345.7" width="13.2" height="6.2" fill="#146e96" stroke="#9a9a9a" stroke-width="0.35"/>
<text x="91.6" y="350.5" font-size="4.7" fill="#222">201 - 300</text>
<rect x="75.2" y="355.1" width="13.2" height="6.2" fill="#0f2d7d" stroke="#9a9a9a" stroke-width="0.35"/>
<text x="91.6" y="359.9" font-size="4.7" fill="#222">301 - 420</text>
<rect x="26.7" y="244.3" width="60.5" height="3" fill="#fff" stroke="#000" stroke-width="0.6"/>
<rect x="26.7" y="244.3" width="30.2" height="3" fill="#000"/>
<text x="26.7" y="241.4" font-size="5.6" text-anchor="middle" fill="#111">0</text>
<text x="57" y="241.4" font-size="5.6" text-anchor="middle" fill="#111">50</text>
<text x="87.1" y="241.4" font-size="5.6" text-anchor="middle" fill="#111">100</text>
<text x="89.6" y="248" font-size="5.6" fill="#111">km</text>
<text x="57.4" y="221.8" font-size="4.8" text-anchor="middle" fill="#222">N</text>
<path d="M57.4 223.7 l3 10.9 l-3 -3.6 z" fill="#fff" stroke="#555" stroke-width="0.4" stroke-linejoin="miter"/>
<path d="M57.4 223.7 l-3 11.1 l3 -3.8 z" fill="#000" stroke="#000" stroke-width="0.3"/>
<rect x="26.7" y="512.3" width="60.5" height="3" fill="#fff" stroke="#000" stroke-width="0.6"/>
<rect x="26.7" y="512.3" width="30.2" height="3" fill="#000"/>
<text x="26.7" y="509.4" font-size="5.6" text-anchor="middle" fill="#111">0</text>
<text x="57" y="509.4" font-size="5.6" text-anchor="middle" fill="#111">50</text>
<text x="87.1" y="509.4" font-size="5.6" text-anchor="middle" fill="#111">100</text>
<text x="89.6" y="516" font-size="5.6" fill="#111">km</text>
<text x="57.4" y="489.8" font-size="4.8" text-anchor="middle" fill="#222">N</text>
<path d="M57.4 491.7 l3 10.9 l-3 -3.6 z" fill="#fff" stroke="#555" stroke-width="0.4" stroke-linejoin="miter"/>
<path d="M57.4 491.7 l-3 11.1 l3 -3.8 z" fill="#000" stroke="#000" stroke-width="0.3"/>
<text x="324.3" y="253.8" font-size="9.4" font-weight="bold" fill="#111">(a)</text>
<text x="324.3" y="523.2" font-size="9.4" font-weight="bold" fill="#111">(b)</text>
</svg></body></html>
